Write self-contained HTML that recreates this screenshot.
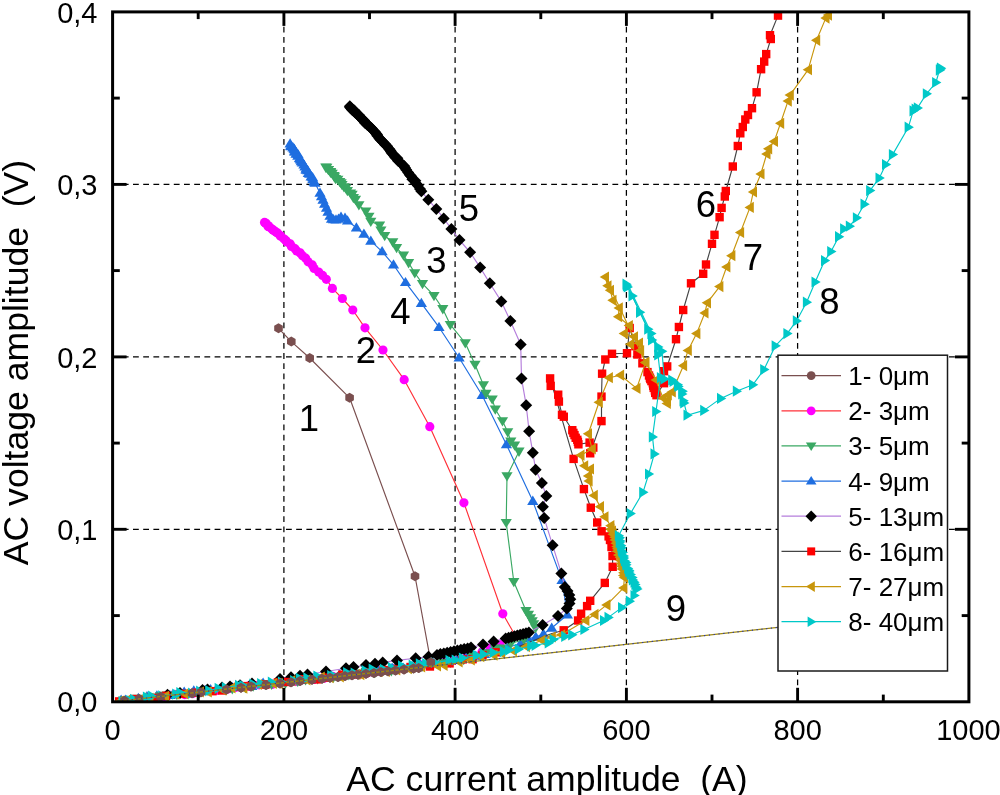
<!DOCTYPE html>
<html lang="en"><head><meta charset="utf-8"><title>AC voltage amplitude vs AC current amplitude</title>
<style>html,body{margin:0;padding:0;background:#fff}body{width:1000px;height:795px;overflow:hidden}svg{display:block}text{font-family:"Liberation Sans",Arial,sans-serif;fill:#000}</style></head><body>
<svg width="1000" height="795" viewBox="0 0 1000 795">
<rect width="1000" height="795" fill="#fff"/>
<g stroke="#000" stroke-width="1.25" stroke-dasharray="5.8 4.4" fill="none">
<line x1="283.9" y1="11.9" x2="283.9" y2="701.8" stroke-dashoffset="5.6"/>
<line x1="455.1" y1="11.9" x2="455.1" y2="701.8" stroke-dashoffset="5.6"/>
<line x1="626.4" y1="11.9" x2="626.4" y2="701.8" stroke-dashoffset="5.6"/>
<line x1="797.6" y1="11.9" x2="797.6" y2="701.8" stroke-dashoffset="5.6"/>
<line x1="112.6" y1="529.3" x2="968.9" y2="529.3"/>
<line x1="112.6" y1="356.9" x2="968.9" y2="356.9"/>
<line x1="112.6" y1="184.4" x2="968.9" y2="184.4"/>
</g>
<clipPath id="c"><rect x="112.6" y="11.9" width="856.3" height="689.9"/></clipPath>
<g clip-path="url(#c)">
<polyline points="124.5,700.8 139.0,699.1 160.5,696.7 192.0,693.2 201.0,692.2 226.5,689.4 241.0,687.7 251.0,686.6 266.0,684.9 280.0,683.4 291.0,682.2 300.0,681.1 312.0,679.8 322.0,678.7 330.0,677.8 338.0,676.9 345.0,676.1 352.0,675.3 358.0,674.7 366.0,673.8 374.0,672.9 381.0,672.1 388.0,671.3 395.5,670.5 404.0,669.5 413.5,668.5 418.7,667.9 430.8,662.2 415.0,576.2 349.6,397.8 309.7,358.0 291.3,341.6 278.5,328.3" fill="none" stroke="#7a4f4f" stroke-width="1.15" stroke-linejoin="round"/>
<g>
<polygon points="128.8,703.3 124.5,705.8 120.2,703.3 120.2,698.3 124.5,695.8 128.8,698.3" fill="#7a4f4f"/>
<polygon points="143.3,701.6 139.0,704.1 134.7,701.6 134.7,696.6 139.0,694.1 143.3,696.6" fill="#7a4f4f"/>
<polygon points="164.8,699.2 160.5,701.7 156.2,699.2 156.2,694.2 160.5,691.7 164.8,694.2" fill="#7a4f4f"/>
<polygon points="196.3,695.7 192.0,698.2 187.7,695.7 187.7,690.7 192.0,688.2 196.3,690.7" fill="#7a4f4f"/>
<polygon points="205.3,694.7 201.0,697.2 196.7,694.7 196.7,689.7 201.0,687.2 205.3,689.7" fill="#7a4f4f"/>
<polygon points="230.8,691.9 226.5,694.4 222.2,691.9 222.2,686.9 226.5,684.4 230.8,686.9" fill="#7a4f4f"/>
<polygon points="245.3,690.2 241.0,692.7 236.7,690.2 236.7,685.2 241.0,682.7 245.3,685.2" fill="#7a4f4f"/>
<polygon points="255.3,689.1 251.0,691.6 246.7,689.1 246.7,684.1 251.0,681.6 255.3,684.1" fill="#7a4f4f"/>
<polygon points="270.3,687.4 266.0,689.9 261.7,687.4 261.7,682.4 266.0,679.9 270.3,682.4" fill="#7a4f4f"/>
<polygon points="284.3,685.9 280.0,688.4 275.7,685.9 275.7,680.9 280.0,678.4 284.3,680.9" fill="#7a4f4f"/>
<polygon points="295.3,684.7 291.0,687.2 286.7,684.7 286.7,679.7 291.0,677.2 295.3,679.7" fill="#7a4f4f"/>
<polygon points="304.3,683.6 300.0,686.1 295.7,683.6 295.7,678.6 300.0,676.1 304.3,678.6" fill="#7a4f4f"/>
<polygon points="316.3,682.3 312.0,684.8 307.7,682.3 307.7,677.3 312.0,674.8 316.3,677.3" fill="#7a4f4f"/>
<polygon points="326.3,681.2 322.0,683.7 317.7,681.2 317.7,676.2 322.0,673.7 326.3,676.2" fill="#7a4f4f"/>
<polygon points="334.3,680.3 330.0,682.8 325.7,680.3 325.7,675.3 330.0,672.8 334.3,675.3" fill="#7a4f4f"/>
<polygon points="342.3,679.4 338.0,681.9 333.7,679.4 333.7,674.4 338.0,671.9 342.3,674.4" fill="#7a4f4f"/>
<polygon points="349.3,678.6 345.0,681.1 340.7,678.6 340.7,673.6 345.0,671.1 349.3,673.6" fill="#7a4f4f"/>
<polygon points="356.3,677.8 352.0,680.3 347.7,677.8 347.7,672.8 352.0,670.3 356.3,672.8" fill="#7a4f4f"/>
<polygon points="362.3,677.2 358.0,679.7 353.7,677.2 353.7,672.2 358.0,669.7 362.3,672.2" fill="#7a4f4f"/>
<polygon points="370.3,676.3 366.0,678.8 361.7,676.3 361.7,671.3 366.0,668.8 370.3,671.3" fill="#7a4f4f"/>
<polygon points="378.3,675.4 374.0,677.9 369.7,675.4 369.7,670.4 374.0,667.9 378.3,670.4" fill="#7a4f4f"/>
<polygon points="385.3,674.6 381.0,677.1 376.7,674.6 376.7,669.6 381.0,667.1 385.3,669.6" fill="#7a4f4f"/>
<polygon points="392.3,673.8 388.0,676.3 383.7,673.8 383.7,668.8 388.0,666.3 392.3,668.8" fill="#7a4f4f"/>
<polygon points="399.8,673.0 395.5,675.5 391.2,673.0 391.2,668.0 395.5,665.5 399.8,668.0" fill="#7a4f4f"/>
<polygon points="408.3,672.0 404.0,674.5 399.7,672.0 399.7,667.0 404.0,664.5 408.3,667.0" fill="#7a4f4f"/>
<polygon points="417.8,671.0 413.5,673.5 409.2,671.0 409.2,666.0 413.5,663.5 417.8,666.0" fill="#7a4f4f"/>
<polygon points="423.0,670.4 418.7,672.9 414.4,670.4 414.4,665.4 418.7,662.9 423.0,665.4" fill="#7a4f4f"/>
<polygon points="435.1,664.7 430.8,667.2 426.5,664.7 426.5,659.7 430.8,657.2 435.1,659.7" fill="#7a4f4f"/>
<polygon points="419.3,578.7 415.0,581.2 410.7,578.7 410.7,573.7 415.0,571.2 419.3,573.7" fill="#7a4f4f"/>
<polygon points="353.9,400.3 349.6,402.8 345.3,400.3 345.3,395.3 349.6,392.8 353.9,395.3" fill="#7a4f4f"/>
<polygon points="314.0,360.5 309.7,363.0 305.4,360.5 305.4,355.5 309.7,353.0 314.0,355.5" fill="#7a4f4f"/>
<polygon points="295.6,344.1 291.3,346.6 287.0,344.1 287.0,339.1 291.3,336.6 295.6,339.1" fill="#7a4f4f"/>
<polygon points="282.8,330.8 278.5,333.3 274.2,330.8 274.2,325.8 278.5,323.3 282.8,325.8" fill="#7a4f4f"/>
</g>
<polyline points="123.4,701.3 132.3,700.1 136.4,700.0 147.6,698.4 164.2,696.5 174.4,694.3 184.8,694.6 192.9,693.6 206.1,690.2 217.0,690.3 227.8,689.0 235.4,687.5 248.4,686.2 259.1,684.8 272.5,684.3 285.5,681.8 296.1,681.4 303.9,679.3 314.0,679.4 323.6,678.4 332.7,676.3 343.6,675.3 357.8,674.4 367.6,672.8 379.0,671.0 393.9,668.6 402.0,667.9 413.1,667.5 421.6,665.0 430.9,665.3 444.1,661.0 453.6,660.3 467.3,655.1 482.0,651.9 490.4,648.2 500.0,644.0 515.5,636.0 502.8,613.8 463.9,502.8 429.8,426.7 404.2,379.7 383.0,350.0 365.0,327.8 352.8,310.0 342.4,298.5 332.4,288.4 326.3,279.3 322.6,275.4 318.7,272.1 314.1,268.5 312.3,264.9 308.1,261.8 305.7,258.2 302.5,255.8 300.3,252.9 296.7,250.9 295.0,248.7 291.4,246.5 290.3,243.9 286.9,241.9 285.8,240.4 283.8,238.8 280.7,236.2 280.1,235.6 277.6,233.1 276.0,232.0 273.9,230.5 273.0,230.1 271.7,228.8 269.4,227.0 268.1,226.5 268.1,225.6 266.0,223.6 265.6,223.0 264.5,222.4" fill="none" stroke="#ff3038" stroke-width="1.15" stroke-linejoin="round"/>
<g>
<circle cx="123.4" cy="701.3" r="4.6" fill="#ff00ff"/>
<circle cx="132.3" cy="700.1" r="4.6" fill="#ff00ff"/>
<circle cx="136.4" cy="700.0" r="4.6" fill="#ff00ff"/>
<circle cx="147.6" cy="698.4" r="4.6" fill="#ff00ff"/>
<circle cx="164.2" cy="696.5" r="4.6" fill="#ff00ff"/>
<circle cx="174.4" cy="694.3" r="4.6" fill="#ff00ff"/>
<circle cx="184.8" cy="694.6" r="4.6" fill="#ff00ff"/>
<circle cx="192.9" cy="693.6" r="4.6" fill="#ff00ff"/>
<circle cx="206.1" cy="690.2" r="4.6" fill="#ff00ff"/>
<circle cx="217.0" cy="690.3" r="4.6" fill="#ff00ff"/>
<circle cx="227.8" cy="689.0" r="4.6" fill="#ff00ff"/>
<circle cx="235.4" cy="687.5" r="4.6" fill="#ff00ff"/>
<circle cx="248.4" cy="686.2" r="4.6" fill="#ff00ff"/>
<circle cx="259.1" cy="684.8" r="4.6" fill="#ff00ff"/>
<circle cx="272.5" cy="684.3" r="4.6" fill="#ff00ff"/>
<circle cx="285.5" cy="681.8" r="4.6" fill="#ff00ff"/>
<circle cx="296.1" cy="681.4" r="4.6" fill="#ff00ff"/>
<circle cx="303.9" cy="679.3" r="4.6" fill="#ff00ff"/>
<circle cx="314.0" cy="679.4" r="4.6" fill="#ff00ff"/>
<circle cx="323.6" cy="678.4" r="4.6" fill="#ff00ff"/>
<circle cx="332.7" cy="676.3" r="4.6" fill="#ff00ff"/>
<circle cx="343.6" cy="675.3" r="4.6" fill="#ff00ff"/>
<circle cx="357.8" cy="674.4" r="4.6" fill="#ff00ff"/>
<circle cx="367.6" cy="672.8" r="4.6" fill="#ff00ff"/>
<circle cx="379.0" cy="671.0" r="4.6" fill="#ff00ff"/>
<circle cx="393.9" cy="668.6" r="4.6" fill="#ff00ff"/>
<circle cx="402.0" cy="667.9" r="4.6" fill="#ff00ff"/>
<circle cx="413.1" cy="667.5" r="4.6" fill="#ff00ff"/>
<circle cx="421.6" cy="665.0" r="4.6" fill="#ff00ff"/>
<circle cx="430.9" cy="665.3" r="4.6" fill="#ff00ff"/>
<circle cx="444.1" cy="661.0" r="4.6" fill="#ff00ff"/>
<circle cx="453.6" cy="660.3" r="4.6" fill="#ff00ff"/>
<circle cx="467.3" cy="655.1" r="4.6" fill="#ff00ff"/>
<circle cx="482.0" cy="651.9" r="4.6" fill="#ff00ff"/>
<circle cx="490.4" cy="648.2" r="4.6" fill="#ff00ff"/>
<circle cx="500.0" cy="644.0" r="4.6" fill="#ff00ff"/>
<circle cx="515.5" cy="636.0" r="4.6" fill="#ff00ff"/>
<circle cx="502.8" cy="613.8" r="4.6" fill="#ff00ff"/>
<circle cx="463.9" cy="502.8" r="4.6" fill="#ff00ff"/>
<circle cx="429.8" cy="426.7" r="4.6" fill="#ff00ff"/>
<circle cx="404.2" cy="379.7" r="4.6" fill="#ff00ff"/>
<circle cx="383.0" cy="350.0" r="4.6" fill="#ff00ff"/>
<circle cx="365.0" cy="327.8" r="4.6" fill="#ff00ff"/>
<circle cx="352.8" cy="310.0" r="4.6" fill="#ff00ff"/>
<circle cx="342.4" cy="298.5" r="4.6" fill="#ff00ff"/>
<circle cx="332.4" cy="288.4" r="4.6" fill="#ff00ff"/>
<circle cx="326.3" cy="279.3" r="4.6" fill="#ff00ff"/>
<circle cx="322.6" cy="275.4" r="4.6" fill="#ff00ff"/>
<circle cx="318.7" cy="272.1" r="4.6" fill="#ff00ff"/>
<circle cx="314.1" cy="268.5" r="4.6" fill="#ff00ff"/>
<circle cx="312.3" cy="264.9" r="4.6" fill="#ff00ff"/>
<circle cx="308.1" cy="261.8" r="4.6" fill="#ff00ff"/>
<circle cx="305.7" cy="258.2" r="4.6" fill="#ff00ff"/>
<circle cx="302.5" cy="255.8" r="4.6" fill="#ff00ff"/>
<circle cx="300.3" cy="252.9" r="4.6" fill="#ff00ff"/>
<circle cx="296.7" cy="250.9" r="4.6" fill="#ff00ff"/>
<circle cx="295.0" cy="248.7" r="4.6" fill="#ff00ff"/>
<circle cx="291.4" cy="246.5" r="4.6" fill="#ff00ff"/>
<circle cx="290.3" cy="243.9" r="4.6" fill="#ff00ff"/>
<circle cx="286.9" cy="241.9" r="4.6" fill="#ff00ff"/>
<circle cx="285.8" cy="240.4" r="4.6" fill="#ff00ff"/>
<circle cx="283.8" cy="238.8" r="4.6" fill="#ff00ff"/>
<circle cx="280.7" cy="236.2" r="4.6" fill="#ff00ff"/>
<circle cx="280.1" cy="235.6" r="4.6" fill="#ff00ff"/>
<circle cx="277.6" cy="233.1" r="4.6" fill="#ff00ff"/>
<circle cx="276.0" cy="232.0" r="4.6" fill="#ff00ff"/>
<circle cx="273.9" cy="230.5" r="4.6" fill="#ff00ff"/>
<circle cx="273.0" cy="230.1" r="4.6" fill="#ff00ff"/>
<circle cx="271.7" cy="228.8" r="4.6" fill="#ff00ff"/>
<circle cx="269.4" cy="227.0" r="4.6" fill="#ff00ff"/>
<circle cx="268.1" cy="226.5" r="4.6" fill="#ff00ff"/>
<circle cx="268.1" cy="225.6" r="4.6" fill="#ff00ff"/>
<circle cx="266.0" cy="223.6" r="4.6" fill="#ff00ff"/>
<circle cx="265.6" cy="223.0" r="4.6" fill="#ff00ff"/>
<circle cx="264.5" cy="222.4" r="4.6" fill="#ff00ff"/>
</g>
<polyline points="121.1,700.1 125.6,700.0 138.3,698.2 147.0,696.5 156.9,695.7 169.8,695.4 184.2,691.9 193.8,690.8 204.1,691.0 210.6,689.4 223.4,688.5 232.0,687.3 241.7,685.9 251.8,686.3 263.1,683.0 278.8,681.7 288.6,680.1 299.0,679.9 309.4,677.8 315.5,677.3 326.9,676.9 339.7,674.4 351.0,673.7 362.4,673.1 373.1,670.0 377.8,669.3 392.1,668.1 403.1,668.1 412.4,666.6 420.5,664.8 433.2,663.3 440.9,661.8 457.6,659.4 467.6,656.3 475.8,656.0 484.5,654.3 499.5,650.3 507.5,647.4 520.3,643.8 528.0,638.9 535.8,637.0 543.4,634.0 551.7,628.0 567.4,614.8 562.0,580.4 532.8,501.1 506.4,444.5 482.1,395.3 459.1,357.8 439.0,327.2 421.4,303.3 405.5,282.4 393.5,264.8 382.1,251.6 370.8,240.9 363.9,234.0 356.4,227.7 347.5,220.8 345.0,218.0 341.0,217.0 338.5,219.0 336.0,219.8 333.5,219.4 331.5,219.0 330.0,216.0 328.0,212.0 326.5,208.0 324.6,204.0 323.0,200.0 321.5,196.5 320.0,193.0 315.0,183.0 314.0,182.0 312.8,179.5 312.6,177.5 311.1,176.7 309.7,173.9 308.3,173.2 307.7,170.6 306.1,170.1 306.1,168.6 304.9,166.8 303.9,164.7 302.3,162.8 301.3,161.6 300.8,160.1 300.2,159.1 299.5,158.3 297.8,156.1 298.0,154.4 296.0,154.0 295.7,151.7 294.4,151.7 294.4,149.4 294.0,148.8 292.9,147.6 291.1,146.4 290.6,145.9 290.1,143.8" fill="none" stroke="#1f6ee0" stroke-width="1.15" stroke-linejoin="round"/>
<g>
<polygon points="115.5,703.9 126.7,703.9 121.1,694.6" fill="#1f6ee0"/>
<polygon points="120.0,703.8 131.2,703.8 125.6,694.5" fill="#1f6ee0"/>
<polygon points="132.7,701.9 143.9,701.9 138.3,692.7" fill="#1f6ee0"/>
<polygon points="141.4,700.2 152.6,700.2 147.0,691.0" fill="#1f6ee0"/>
<polygon points="151.3,699.4 162.5,699.4 156.9,690.2" fill="#1f6ee0"/>
<polygon points="164.2,699.1 175.4,699.1 169.8,689.9" fill="#1f6ee0"/>
<polygon points="178.6,695.6 189.8,695.6 184.2,686.4" fill="#1f6ee0"/>
<polygon points="188.2,694.5 199.4,694.5 193.8,685.3" fill="#1f6ee0"/>
<polygon points="198.5,694.7 209.7,694.7 204.1,685.5" fill="#1f6ee0"/>
<polygon points="205.0,693.1 216.2,693.1 210.6,683.9" fill="#1f6ee0"/>
<polygon points="217.8,692.2 229.0,692.2 223.4,683.0" fill="#1f6ee0"/>
<polygon points="226.4,691.1 237.6,691.1 232.0,681.8" fill="#1f6ee0"/>
<polygon points="236.1,689.6 247.3,689.6 241.7,680.4" fill="#1f6ee0"/>
<polygon points="246.2,690.0 257.4,690.0 251.8,680.8" fill="#1f6ee0"/>
<polygon points="257.5,686.8 268.7,686.8 263.1,677.5" fill="#1f6ee0"/>
<polygon points="273.2,685.5 284.4,685.5 278.8,676.2" fill="#1f6ee0"/>
<polygon points="283.0,683.8 294.2,683.8 288.6,674.6" fill="#1f6ee0"/>
<polygon points="293.4,683.6 304.6,683.6 299.0,674.4" fill="#1f6ee0"/>
<polygon points="303.8,681.6 315.0,681.6 309.4,672.3" fill="#1f6ee0"/>
<polygon points="309.9,681.1 321.1,681.1 315.5,671.8" fill="#1f6ee0"/>
<polygon points="321.3,680.7 332.5,680.7 326.9,671.4" fill="#1f6ee0"/>
<polygon points="334.1,678.1 345.3,678.1 339.7,668.9" fill="#1f6ee0"/>
<polygon points="345.4,677.4 356.6,677.4 351.0,668.2" fill="#1f6ee0"/>
<polygon points="356.8,676.9 368.0,676.9 362.4,667.6" fill="#1f6ee0"/>
<polygon points="367.5,673.7 378.7,673.7 373.1,664.5" fill="#1f6ee0"/>
<polygon points="372.2,673.1 383.4,673.1 377.8,663.8" fill="#1f6ee0"/>
<polygon points="386.5,671.8 397.7,671.8 392.1,662.6" fill="#1f6ee0"/>
<polygon points="397.5,671.8 408.7,671.8 403.1,662.6" fill="#1f6ee0"/>
<polygon points="406.8,670.4 418.0,670.4 412.4,661.1" fill="#1f6ee0"/>
<polygon points="414.9,668.5 426.1,668.5 420.5,659.3" fill="#1f6ee0"/>
<polygon points="427.6,667.1 438.8,667.1 433.2,657.8" fill="#1f6ee0"/>
<polygon points="435.3,665.5 446.5,665.5 440.9,656.3" fill="#1f6ee0"/>
<polygon points="452.0,663.2 463.2,663.2 457.6,653.9" fill="#1f6ee0"/>
<polygon points="462.0,660.1 473.2,660.1 467.6,650.8" fill="#1f6ee0"/>
<polygon points="470.2,659.8 481.4,659.8 475.8,650.5" fill="#1f6ee0"/>
<polygon points="478.9,658.1 490.1,658.1 484.5,648.8" fill="#1f6ee0"/>
<polygon points="493.9,654.1 505.1,654.1 499.5,644.8" fill="#1f6ee0"/>
<polygon points="501.9,651.1 513.1,651.1 507.5,641.9" fill="#1f6ee0"/>
<polygon points="514.7,647.5 525.9,647.5 520.3,638.3" fill="#1f6ee0"/>
<polygon points="522.4,642.6 533.6,642.6 528.0,633.4" fill="#1f6ee0"/>
<polygon points="530.2,640.8 541.4,640.8 535.8,631.5" fill="#1f6ee0"/>
<polygon points="537.8,637.8 549.0,637.8 543.4,628.5" fill="#1f6ee0"/>
<polygon points="546.1,631.8 557.3,631.8 551.7,622.5" fill="#1f6ee0"/>
<polygon points="561.8,618.5 573.0,618.5 567.4,609.3" fill="#1f6ee0"/>
<polygon points="556.4,584.1 567.6,584.1 562.0,574.9" fill="#1f6ee0"/>
<polygon points="527.2,504.9 538.4,504.9 532.8,495.6" fill="#1f6ee0"/>
<polygon points="500.8,448.2 512.0,448.2 506.4,439.0" fill="#1f6ee0"/>
<polygon points="476.5,399.1 487.7,399.1 482.1,389.8" fill="#1f6ee0"/>
<polygon points="453.5,361.6 464.7,361.6 459.1,352.3" fill="#1f6ee0"/>
<polygon points="433.4,330.9 444.6,330.9 439.0,321.7" fill="#1f6ee0"/>
<polygon points="415.8,307.1 427.0,307.1 421.4,297.8" fill="#1f6ee0"/>
<polygon points="399.9,286.1 411.1,286.1 405.5,276.9" fill="#1f6ee0"/>
<polygon points="387.9,268.6 399.1,268.6 393.5,259.3" fill="#1f6ee0"/>
<polygon points="376.5,255.3 387.7,255.3 382.1,246.1" fill="#1f6ee0"/>
<polygon points="365.2,244.7 376.4,244.7 370.8,235.4" fill="#1f6ee0"/>
<polygon points="358.3,237.8 369.5,237.8 363.9,228.5" fill="#1f6ee0"/>
<polygon points="350.8,231.4 362.0,231.4 356.4,222.2" fill="#1f6ee0"/>
<polygon points="341.9,224.6 353.1,224.6 347.5,215.3" fill="#1f6ee0"/>
<polygon points="339.4,221.8 350.6,221.8 345.0,212.5" fill="#1f6ee0"/>
<polygon points="335.4,220.8 346.6,220.8 341.0,211.5" fill="#1f6ee0"/>
<polygon points="332.9,222.8 344.1,222.8 338.5,213.5" fill="#1f6ee0"/>
<polygon points="330.4,223.6 341.6,223.6 336.0,214.3" fill="#1f6ee0"/>
<polygon points="327.9,223.2 339.1,223.2 333.5,213.9" fill="#1f6ee0"/>
<polygon points="325.9,222.8 337.1,222.8 331.5,213.5" fill="#1f6ee0"/>
<polygon points="324.4,219.8 335.6,219.8 330.0,210.5" fill="#1f6ee0"/>
<polygon points="322.4,215.8 333.6,215.8 328.0,206.5" fill="#1f6ee0"/>
<polygon points="320.9,211.8 332.1,211.8 326.5,202.5" fill="#1f6ee0"/>
<polygon points="319.0,207.8 330.2,207.8 324.6,198.5" fill="#1f6ee0"/>
<polygon points="317.4,203.8 328.6,203.8 323.0,194.5" fill="#1f6ee0"/>
<polygon points="315.9,200.2 327.1,200.2 321.5,191.0" fill="#1f6ee0"/>
<polygon points="314.4,196.8 325.6,196.8 320.0,187.5" fill="#1f6ee0"/>
<polygon points="309.4,186.7 320.6,186.7 315.0,177.5" fill="#1f6ee0"/>
<polygon points="308.4,185.7 319.6,185.7 314.0,176.5" fill="#1f6ee0"/>
<polygon points="307.2,183.2 318.4,183.2 312.8,174.0" fill="#1f6ee0"/>
<polygon points="307.0,181.2 318.2,181.2 312.6,172.0" fill="#1f6ee0"/>
<polygon points="305.5,180.4 316.7,180.4 311.1,171.2" fill="#1f6ee0"/>
<polygon points="304.1,177.7 315.3,177.7 309.7,168.4" fill="#1f6ee0"/>
<polygon points="302.7,177.0 313.9,177.0 308.3,167.7" fill="#1f6ee0"/>
<polygon points="302.1,174.3 313.3,174.3 307.7,165.1" fill="#1f6ee0"/>
<polygon points="300.5,173.8 311.7,173.8 306.1,164.6" fill="#1f6ee0"/>
<polygon points="300.5,172.4 311.7,172.4 306.1,163.1" fill="#1f6ee0"/>
<polygon points="299.3,170.5 310.5,170.5 304.9,161.3" fill="#1f6ee0"/>
<polygon points="298.3,168.4 309.5,168.4 303.9,159.2" fill="#1f6ee0"/>
<polygon points="296.7,166.5 307.9,166.5 302.3,157.3" fill="#1f6ee0"/>
<polygon points="295.7,165.3 306.9,165.3 301.3,156.1" fill="#1f6ee0"/>
<polygon points="295.2,163.8 306.4,163.8 300.8,154.6" fill="#1f6ee0"/>
<polygon points="294.6,162.8 305.8,162.8 300.2,153.6" fill="#1f6ee0"/>
<polygon points="293.9,162.1 305.1,162.1 299.5,152.8" fill="#1f6ee0"/>
<polygon points="292.2,159.8 303.4,159.8 297.8,150.6" fill="#1f6ee0"/>
<polygon points="292.4,158.1 303.6,158.1 298.0,148.9" fill="#1f6ee0"/>
<polygon points="290.4,157.7 301.6,157.7 296.0,148.5" fill="#1f6ee0"/>
<polygon points="290.1,155.5 301.3,155.5 295.7,146.2" fill="#1f6ee0"/>
<polygon points="288.8,155.5 300.0,155.5 294.4,146.2" fill="#1f6ee0"/>
<polygon points="288.8,153.2 300.0,153.2 294.4,143.9" fill="#1f6ee0"/>
<polygon points="288.4,152.5 299.6,152.5 294.0,143.3" fill="#1f6ee0"/>
<polygon points="287.3,151.4 298.5,151.4 292.9,142.1" fill="#1f6ee0"/>
<polygon points="285.5,150.2 296.7,150.2 291.1,140.9" fill="#1f6ee0"/>
<polygon points="285.0,149.7 296.2,149.7 290.6,140.4" fill="#1f6ee0"/>
<polygon points="284.5,147.6 295.7,147.6 290.1,138.3" fill="#1f6ee0"/>
</g>
<polyline points="123.8,700.4 128.7,700.3 137.9,698.4 150.0,697.6 160.6,696.1 166.9,695.3 176.9,694.7 193.3,692.8 199.5,692.9 209.8,691.1 225.7,689.9 232.3,689.0 245.4,687.8 253.2,686.2 264.8,683.6 271.6,684.5 285.5,683.2 297.7,681.6 305.6,679.9 317.6,678.9 327.5,676.6 333.4,677.4 348.9,675.0 358.1,673.2 366.4,671.8 374.8,672.7 391.3,671.1 398.9,668.1 411.1,668.4 422.7,666.2 431.9,664.3 443.8,662.6 450.4,662.5 463.7,659.7 471.5,655.7 485.5,653.0 495.5,648.4 500.2,648.4 510.9,643.5 524.0,639.5 535.5,628.0 533.7,624.0 532.2,621.0 530.5,618.0 528.5,614.5 526.0,610.7 513.8,581.7 506.2,522.6 507.0,476.0 519.0,451.4 514.6,445.2 510.8,441.4 507.7,432.0 502.5,421.0 495.3,409.2 492.2,399.1 485.9,393.5 483.4,385.0 475.0,364.5 465.3,343.0 450.3,324.7 442.8,308.9 434.0,295.7 422.5,283.7 414.8,273.0 408.6,262.9 403.5,255.3 396.6,247.8 392.8,242.1 384.7,235.8 380.9,230.2 379.6,225.2 370.8,221.4 368.9,216.4 365.8,211.3 358.9,205.0 355.5,199.5 353.4,197.8 352.1,194.5 350.5,193.1 347.4,190.8 345.9,188.1 344.0,187.0 342.0,184.8 341.1,182.9 339.7,181.8 337.8,179.4 335.6,178.7 334.4,177.1 334.1,175.7 332.2,173.6 330.6,172.4 330.6,171.9 328.4,169.6 328.4,169.7 326.8,167.6 325.8,167.4" fill="none" stroke="#3aa863" stroke-width="1.15" stroke-linejoin="round"/>
<g>
<polygon points="118.2,696.6 129.4,696.6 123.8,705.9" fill="#3aa863"/>
<polygon points="123.1,696.5 134.3,696.5 128.7,705.8" fill="#3aa863"/>
<polygon points="132.3,694.7 143.5,694.7 137.9,703.9" fill="#3aa863"/>
<polygon points="144.4,693.8 155.6,693.8 150.0,703.1" fill="#3aa863"/>
<polygon points="155.0,692.3 166.2,692.3 160.6,701.6" fill="#3aa863"/>
<polygon points="161.3,691.5 172.5,691.5 166.9,700.8" fill="#3aa863"/>
<polygon points="171.3,690.9 182.5,690.9 176.9,700.2" fill="#3aa863"/>
<polygon points="187.7,689.0 198.9,689.0 193.3,698.3" fill="#3aa863"/>
<polygon points="193.9,689.1 205.1,689.1 199.5,698.4" fill="#3aa863"/>
<polygon points="204.2,687.4 215.4,687.4 209.8,696.6" fill="#3aa863"/>
<polygon points="220.1,686.2 231.3,686.2 225.7,695.4" fill="#3aa863"/>
<polygon points="226.7,685.2 237.9,685.2 232.3,694.5" fill="#3aa863"/>
<polygon points="239.8,684.1 251.0,684.1 245.4,693.3" fill="#3aa863"/>
<polygon points="247.6,682.4 258.8,682.4 253.2,691.7" fill="#3aa863"/>
<polygon points="259.2,679.9 270.4,679.9 264.8,689.1" fill="#3aa863"/>
<polygon points="266.0,680.8 277.2,680.8 271.6,690.0" fill="#3aa863"/>
<polygon points="279.9,679.4 291.1,679.4 285.5,688.7" fill="#3aa863"/>
<polygon points="292.1,677.9 303.3,677.9 297.7,687.1" fill="#3aa863"/>
<polygon points="300.0,676.2 311.2,676.2 305.6,685.4" fill="#3aa863"/>
<polygon points="312.0,675.2 323.2,675.2 317.6,684.4" fill="#3aa863"/>
<polygon points="321.9,672.8 333.1,672.8 327.5,682.1" fill="#3aa863"/>
<polygon points="327.8,673.6 339.0,673.6 333.4,682.9" fill="#3aa863"/>
<polygon points="343.3,671.2 354.5,671.2 348.9,680.5" fill="#3aa863"/>
<polygon points="352.5,669.5 363.7,669.5 358.1,678.7" fill="#3aa863"/>
<polygon points="360.8,668.0 372.0,668.0 366.4,677.3" fill="#3aa863"/>
<polygon points="369.2,668.9 380.4,668.9 374.8,678.2" fill="#3aa863"/>
<polygon points="385.7,667.4 396.9,667.4 391.3,676.6" fill="#3aa863"/>
<polygon points="393.3,664.4 404.5,664.4 398.9,673.6" fill="#3aa863"/>
<polygon points="405.5,664.7 416.7,664.7 411.1,673.9" fill="#3aa863"/>
<polygon points="417.1,662.4 428.3,662.4 422.7,671.7" fill="#3aa863"/>
<polygon points="426.3,660.5 437.5,660.5 431.9,669.8" fill="#3aa863"/>
<polygon points="438.2,658.9 449.4,658.9 443.8,668.1" fill="#3aa863"/>
<polygon points="444.8,658.7 456.0,658.7 450.4,668.0" fill="#3aa863"/>
<polygon points="458.1,656.0 469.3,656.0 463.7,665.2" fill="#3aa863"/>
<polygon points="465.9,652.0 477.1,652.0 471.5,661.2" fill="#3aa863"/>
<polygon points="479.9,649.3 491.1,649.3 485.5,658.5" fill="#3aa863"/>
<polygon points="489.9,644.7 501.1,644.7 495.5,653.9" fill="#3aa863"/>
<polygon points="494.6,644.6 505.8,644.6 500.2,653.9" fill="#3aa863"/>
<polygon points="505.3,639.7 516.5,639.7 510.9,649.0" fill="#3aa863"/>
<polygon points="518.4,635.7 529.6,635.7 524.0,645.0" fill="#3aa863"/>
<polygon points="529.9,624.2 541.1,624.2 535.5,633.5" fill="#3aa863"/>
<polygon points="528.1,620.2 539.3,620.2 533.7,629.5" fill="#3aa863"/>
<polygon points="526.6,617.2 537.8,617.2 532.2,626.5" fill="#3aa863"/>
<polygon points="524.9,614.2 536.1,614.2 530.5,623.5" fill="#3aa863"/>
<polygon points="522.9,610.8 534.1,610.8 528.5,620.0" fill="#3aa863"/>
<polygon points="520.4,607.0 531.6,607.0 526.0,616.2" fill="#3aa863"/>
<polygon points="508.2,578.0 519.4,578.0 513.8,587.2" fill="#3aa863"/>
<polygon points="500.6,518.9 511.8,518.9 506.2,528.1" fill="#3aa863"/>
<polygon points="501.4,472.2 512.6,472.2 507.0,481.5" fill="#3aa863"/>
<polygon points="513.4,447.6 524.6,447.6 519.0,456.9" fill="#3aa863"/>
<polygon points="509.0,441.4 520.2,441.4 514.6,450.7" fill="#3aa863"/>
<polygon points="505.2,437.6 516.4,437.6 510.8,446.9" fill="#3aa863"/>
<polygon points="502.1,428.2 513.3,428.2 507.7,437.5" fill="#3aa863"/>
<polygon points="496.9,417.2 508.1,417.2 502.5,426.5" fill="#3aa863"/>
<polygon points="489.7,405.4 500.9,405.4 495.3,414.7" fill="#3aa863"/>
<polygon points="486.6,395.4 497.8,395.4 492.2,404.6" fill="#3aa863"/>
<polygon points="480.3,389.8 491.5,389.8 485.9,399.0" fill="#3aa863"/>
<polygon points="477.8,381.2 489.0,381.2 483.4,390.5" fill="#3aa863"/>
<polygon points="469.4,360.8 480.6,360.8 475.0,370.0" fill="#3aa863"/>
<polygon points="459.7,339.2 470.9,339.2 465.3,348.5" fill="#3aa863"/>
<polygon points="444.7,320.9 455.9,320.9 450.3,330.2" fill="#3aa863"/>
<polygon points="437.2,305.1 448.4,305.1 442.8,314.4" fill="#3aa863"/>
<polygon points="428.4,291.9 439.6,291.9 434.0,301.2" fill="#3aa863"/>
<polygon points="416.9,279.9 428.1,279.9 422.5,289.2" fill="#3aa863"/>
<polygon points="409.2,269.2 420.4,269.2 414.8,278.5" fill="#3aa863"/>
<polygon points="403.0,259.1 414.2,259.1 408.6,268.4" fill="#3aa863"/>
<polygon points="397.9,251.6 409.1,251.6 403.5,260.8" fill="#3aa863"/>
<polygon points="391.0,244.1 402.2,244.1 396.6,253.3" fill="#3aa863"/>
<polygon points="387.2,238.3 398.4,238.3 392.8,247.6" fill="#3aa863"/>
<polygon points="379.1,232.1 390.3,232.1 384.7,241.3" fill="#3aa863"/>
<polygon points="375.3,226.4 386.5,226.4 380.9,235.7" fill="#3aa863"/>
<polygon points="374.0,221.4 385.2,221.4 379.6,230.7" fill="#3aa863"/>
<polygon points="365.2,217.7 376.4,217.7 370.8,226.9" fill="#3aa863"/>
<polygon points="363.3,212.7 374.5,212.7 368.9,221.9" fill="#3aa863"/>
<polygon points="360.2,207.6 371.4,207.6 365.8,216.8" fill="#3aa863"/>
<polygon points="353.3,201.2 364.5,201.2 358.9,210.5" fill="#3aa863"/>
<polygon points="349.9,195.8 361.1,195.8 355.5,205.0" fill="#3aa863"/>
<polygon points="347.8,194.1 359.0,194.1 353.4,203.3" fill="#3aa863"/>
<polygon points="346.5,190.7 357.7,190.7 352.1,200.0" fill="#3aa863"/>
<polygon points="344.9,189.4 356.1,189.4 350.5,198.6" fill="#3aa863"/>
<polygon points="341.8,187.0 353.0,187.0 347.4,196.3" fill="#3aa863"/>
<polygon points="340.3,184.3 351.5,184.3 345.9,193.6" fill="#3aa863"/>
<polygon points="338.4,183.2 349.6,183.2 344.0,192.5" fill="#3aa863"/>
<polygon points="336.4,181.0 347.6,181.0 342.0,190.3" fill="#3aa863"/>
<polygon points="335.5,179.2 346.7,179.2 341.1,188.4" fill="#3aa863"/>
<polygon points="334.1,178.0 345.3,178.0 339.7,187.3" fill="#3aa863"/>
<polygon points="332.2,175.7 343.4,175.7 337.8,184.9" fill="#3aa863"/>
<polygon points="330.0,175.0 341.2,175.0 335.6,184.2" fill="#3aa863"/>
<polygon points="328.8,173.3 340.0,173.3 334.4,182.6" fill="#3aa863"/>
<polygon points="328.5,171.9 339.7,171.9 334.1,181.2" fill="#3aa863"/>
<polygon points="326.6,169.8 337.8,169.8 332.2,179.1" fill="#3aa863"/>
<polygon points="325.0,168.7 336.2,168.7 330.6,177.9" fill="#3aa863"/>
<polygon points="325.0,168.1 336.2,168.1 330.6,177.4" fill="#3aa863"/>
<polygon points="322.8,165.9 334.0,165.9 328.4,175.1" fill="#3aa863"/>
<polygon points="322.8,166.0 334.0,166.0 328.4,175.2" fill="#3aa863"/>
<polygon points="321.2,163.8 332.4,163.8 326.8,173.1" fill="#3aa863"/>
<polygon points="320.2,163.6 331.4,163.6 325.8,172.9" fill="#3aa863"/>
</g>
<polyline points="167.5,694.7 180.0,693.0 202.5,690.1 207.5,689.4 222.0,687.5 230.0,686.5 240.0,685.2 252.0,683.5 280.0,679.0 291.0,677.2 300.0,675.7 307.5,674.5 326.0,671.5 346.0,668.2 353.5,667.1 366.0,665.1 375.0,663.8 382.7,662.6 397.0,660.4 415.7,658.2 428.5,656.7 437.0,654.9 440.4,654.1 443.8,653.4 447.2,652.7 450.6,652.0 454.0,651.3 457.4,650.5 460.8,649.8 464.2,649.1 467.6,648.4 471.0,647.6 483.0,644.4 493.6,641.6 505.7,638.5 508.6,637.7 511.5,637.0 514.4,636.2 517.3,635.4 520.2,634.7 523.1,633.9 526.0,633.2 528.9,632.4 542.6,625.0 558.0,615.9 566.8,608.4 569.5,603.5 570.3,599.2 569.3,595.0 567.5,591.0 564.8,587.0 561.4,573.5 552.6,545.2 544.2,518.1 542.9,506.8 546.3,496.1 541.9,482.9 535.6,469.7 532.8,452.7 529.1,431.3 526.2,405.2 521.5,378.4 520.7,344.6 510.4,320.9 501.3,301.4 489.8,283.2 480.1,267.4 470.1,252.3 459.5,240.0 451.4,228.9 443.7,218.5 436.3,208.9 428.3,199.8 421.4,191.2 420.0,188.9 417.8,185.5 416.1,183.6 415.3,180.8 412.4,179.2 411.1,176.2 409.7,174.8 408.2,172.4 406.2,169.8 405.0,167.7 404.1,166.0 401.4,163.8 400.3,162.6 398.0,160.7 397.4,158.2 395.3,157.4 394.0,155.6 392.1,153.6 391.0,151.8 390.4,150.4 389.2,148.9 387.2,146.2 385.4,144.9 385.0,143.9 382.9,142.1 381.4,140.3 380.3,139.5 379.2,138.0 377.3,135.7 377.0,134.5 376.0,133.6 374.8,131.8 373.5,130.7 372.0,128.9 371.3,128.1 369.7,126.6 368.9,125.7 367.4,124.9 366.0,123.3 364.8,122.7 364.1,120.6 363.1,120.5 362.0,118.9 361.2,118.0 360.4,117.4 358.9,115.1 358.0,115.0 356.9,114.1 356.1,112.8 354.8,112.2 354.4,110.4 353.1,110.6 351.8,109.5 351.1,107.9 350.1,107.6 349.8,106.3" fill="none" stroke="#b57edc" stroke-width="1.15" stroke-linejoin="round"/>
<g>
<polygon points="161.5,694.7 167.5,688.7 173.5,694.7 167.5,700.7" fill="#000"/>
<polygon points="174.0,693.0 180.0,687.0 186.0,693.0 180.0,699.0" fill="#000"/>
<polygon points="196.5,690.1 202.5,684.1 208.5,690.1 202.5,696.1" fill="#000"/>
<polygon points="201.5,689.4 207.5,683.4 213.5,689.4 207.5,695.4" fill="#000"/>
<polygon points="216.0,687.5 222.0,681.5 228.0,687.5 222.0,693.5" fill="#000"/>
<polygon points="224.0,686.5 230.0,680.5 236.0,686.5 230.0,692.5" fill="#000"/>
<polygon points="234.0,685.2 240.0,679.2 246.0,685.2 240.0,691.2" fill="#000"/>
<polygon points="246.0,683.5 252.0,677.5 258.0,683.5 252.0,689.5" fill="#000"/>
<polygon points="274.0,679.0 280.0,673.0 286.0,679.0 280.0,685.0" fill="#000"/>
<polygon points="285.0,677.2 291.0,671.2 297.0,677.2 291.0,683.2" fill="#000"/>
<polygon points="294.0,675.7 300.0,669.7 306.0,675.7 300.0,681.7" fill="#000"/>
<polygon points="301.5,674.5 307.5,668.5 313.5,674.5 307.5,680.5" fill="#000"/>
<polygon points="320.0,671.5 326.0,665.5 332.0,671.5 326.0,677.5" fill="#000"/>
<polygon points="340.0,668.2 346.0,662.2 352.0,668.2 346.0,674.2" fill="#000"/>
<polygon points="347.5,667.1 353.5,661.1 359.5,667.1 353.5,673.1" fill="#000"/>
<polygon points="360.0,665.1 366.0,659.1 372.0,665.1 366.0,671.1" fill="#000"/>
<polygon points="369.0,663.8 375.0,657.8 381.0,663.8 375.0,669.8" fill="#000"/>
<polygon points="376.7,662.6 382.7,656.6 388.7,662.6 382.7,668.6" fill="#000"/>
<polygon points="391.0,660.4 397.0,654.4 403.0,660.4 397.0,666.4" fill="#000"/>
<polygon points="409.7,658.2 415.7,652.2 421.7,658.2 415.7,664.2" fill="#000"/>
<polygon points="422.5,656.7 428.5,650.7 434.5,656.7 428.5,662.7" fill="#000"/>
<polygon points="431.0,654.9 437.0,648.9 443.0,654.9 437.0,660.9" fill="#000"/>
<polygon points="434.4,654.1 440.4,648.1 446.4,654.1 440.4,660.1" fill="#000"/>
<polygon points="437.8,653.4 443.8,647.4 449.8,653.4 443.8,659.4" fill="#000"/>
<polygon points="441.2,652.7 447.2,646.7 453.2,652.7 447.2,658.7" fill="#000"/>
<polygon points="444.6,652.0 450.6,646.0 456.6,652.0 450.6,658.0" fill="#000"/>
<polygon points="448.0,651.3 454.0,645.3 460.0,651.3 454.0,657.3" fill="#000"/>
<polygon points="451.4,650.5 457.4,644.5 463.4,650.5 457.4,656.5" fill="#000"/>
<polygon points="454.8,649.8 460.8,643.8 466.8,649.8 460.8,655.8" fill="#000"/>
<polygon points="458.2,649.1 464.2,643.1 470.2,649.1 464.2,655.1" fill="#000"/>
<polygon points="461.6,648.4 467.6,642.4 473.6,648.4 467.6,654.4" fill="#000"/>
<polygon points="465.0,647.6 471.0,641.6 477.0,647.6 471.0,653.6" fill="#000"/>
<polygon points="477.0,644.4 483.0,638.4 489.0,644.4 483.0,650.4" fill="#000"/>
<polygon points="487.6,641.6 493.6,635.6 499.6,641.6 493.6,647.6" fill="#000"/>
<polygon points="499.7,638.5 505.7,632.5 511.7,638.5 505.7,644.5" fill="#000"/>
<polygon points="502.6,637.7 508.6,631.7 514.6,637.7 508.6,643.7" fill="#000"/>
<polygon points="505.5,637.0 511.5,631.0 517.5,637.0 511.5,643.0" fill="#000"/>
<polygon points="508.4,636.2 514.4,630.2 520.4,636.2 514.4,642.2" fill="#000"/>
<polygon points="511.3,635.4 517.3,629.4 523.3,635.4 517.3,641.4" fill="#000"/>
<polygon points="514.2,634.7 520.2,628.7 526.2,634.7 520.2,640.7" fill="#000"/>
<polygon points="517.1,633.9 523.1,627.9 529.1,633.9 523.1,639.9" fill="#000"/>
<polygon points="520.0,633.2 526.0,627.2 532.0,633.2 526.0,639.2" fill="#000"/>
<polygon points="522.9,632.4 528.9,626.4 534.9,632.4 528.9,638.4" fill="#000"/>
<polygon points="536.6,625.0 542.6,619.0 548.6,625.0 542.6,631.0" fill="#000"/>
<polygon points="552.0,615.9 558.0,609.9 564.0,615.9 558.0,621.9" fill="#000"/>
<polygon points="560.8,608.4 566.8,602.4 572.8,608.4 566.8,614.4" fill="#000"/>
<polygon points="563.5,603.5 569.5,597.5 575.5,603.5 569.5,609.5" fill="#000"/>
<polygon points="564.3,599.2 570.3,593.2 576.3,599.2 570.3,605.2" fill="#000"/>
<polygon points="563.3,595.0 569.3,589.0 575.3,595.0 569.3,601.0" fill="#000"/>
<polygon points="561.5,591.0 567.5,585.0 573.5,591.0 567.5,597.0" fill="#000"/>
<polygon points="558.8,587.0 564.8,581.0 570.8,587.0 564.8,593.0" fill="#000"/>
<polygon points="555.4,573.5 561.4,567.5 567.4,573.5 561.4,579.5" fill="#000"/>
<polygon points="546.6,545.2 552.6,539.2 558.6,545.2 552.6,551.2" fill="#000"/>
<polygon points="538.2,518.1 544.2,512.1 550.2,518.1 544.2,524.1" fill="#000"/>
<polygon points="536.9,506.8 542.9,500.8 548.9,506.8 542.9,512.8" fill="#000"/>
<polygon points="540.3,496.1 546.3,490.1 552.3,496.1 546.3,502.1" fill="#000"/>
<polygon points="535.9,482.9 541.9,476.9 547.9,482.9 541.9,488.9" fill="#000"/>
<polygon points="529.6,469.7 535.6,463.7 541.6,469.7 535.6,475.7" fill="#000"/>
<polygon points="526.8,452.7 532.8,446.7 538.8,452.7 532.8,458.7" fill="#000"/>
<polygon points="523.1,431.3 529.1,425.3 535.1,431.3 529.1,437.3" fill="#000"/>
<polygon points="520.2,405.2 526.2,399.2 532.2,405.2 526.2,411.2" fill="#000"/>
<polygon points="515.5,378.4 521.5,372.4 527.5,378.4 521.5,384.4" fill="#000"/>
<polygon points="514.7,344.6 520.7,338.6 526.7,344.6 520.7,350.6" fill="#000"/>
<polygon points="504.4,320.9 510.4,314.9 516.4,320.9 510.4,326.9" fill="#000"/>
<polygon points="495.3,301.4 501.3,295.4 507.3,301.4 501.3,307.4" fill="#000"/>
<polygon points="483.8,283.2 489.8,277.2 495.8,283.2 489.8,289.2" fill="#000"/>
<polygon points="474.1,267.4 480.1,261.4 486.1,267.4 480.1,273.4" fill="#000"/>
<polygon points="464.1,252.3 470.1,246.3 476.1,252.3 470.1,258.3" fill="#000"/>
<polygon points="453.5,240.0 459.5,234.0 465.5,240.0 459.5,246.0" fill="#000"/>
<polygon points="445.4,228.9 451.4,222.9 457.4,228.9 451.4,234.9" fill="#000"/>
<polygon points="437.7,218.5 443.7,212.5 449.7,218.5 443.7,224.5" fill="#000"/>
<polygon points="430.3,208.9 436.3,202.9 442.3,208.9 436.3,214.9" fill="#000"/>
<polygon points="422.3,199.8 428.3,193.8 434.3,199.8 428.3,205.8" fill="#000"/>
<polygon points="415.4,191.2 421.4,185.2 427.4,191.2 421.4,197.2" fill="#000"/>
<polygon points="414.0,188.9 420.0,182.9 426.0,188.9 420.0,194.9" fill="#000"/>
<polygon points="411.8,185.5 417.8,179.5 423.8,185.5 417.8,191.5" fill="#000"/>
<polygon points="410.1,183.6 416.1,177.6 422.1,183.6 416.1,189.6" fill="#000"/>
<polygon points="409.3,180.8 415.3,174.8 421.3,180.8 415.3,186.8" fill="#000"/>
<polygon points="406.4,179.2 412.4,173.2 418.4,179.2 412.4,185.2" fill="#000"/>
<polygon points="405.1,176.2 411.1,170.2 417.1,176.2 411.1,182.2" fill="#000"/>
<polygon points="403.7,174.8 409.7,168.8 415.7,174.8 409.7,180.8" fill="#000"/>
<polygon points="402.2,172.4 408.2,166.4 414.2,172.4 408.2,178.4" fill="#000"/>
<polygon points="400.2,169.8 406.2,163.8 412.2,169.8 406.2,175.8" fill="#000"/>
<polygon points="399.0,167.7 405.0,161.7 411.0,167.7 405.0,173.7" fill="#000"/>
<polygon points="398.1,166.0 404.1,160.0 410.1,166.0 404.1,172.0" fill="#000"/>
<polygon points="395.4,163.8 401.4,157.8 407.4,163.8 401.4,169.8" fill="#000"/>
<polygon points="394.3,162.6 400.3,156.6 406.3,162.6 400.3,168.6" fill="#000"/>
<polygon points="392.0,160.7 398.0,154.7 404.0,160.7 398.0,166.7" fill="#000"/>
<polygon points="391.4,158.2 397.4,152.2 403.4,158.2 397.4,164.2" fill="#000"/>
<polygon points="389.3,157.4 395.3,151.4 401.3,157.4 395.3,163.4" fill="#000"/>
<polygon points="388.0,155.6 394.0,149.6 400.0,155.6 394.0,161.6" fill="#000"/>
<polygon points="386.1,153.6 392.1,147.6 398.1,153.6 392.1,159.6" fill="#000"/>
<polygon points="385.0,151.8 391.0,145.8 397.0,151.8 391.0,157.8" fill="#000"/>
<polygon points="384.4,150.4 390.4,144.4 396.4,150.4 390.4,156.4" fill="#000"/>
<polygon points="383.2,148.9 389.2,142.9 395.2,148.9 389.2,154.9" fill="#000"/>
<polygon points="381.2,146.2 387.2,140.2 393.2,146.2 387.2,152.2" fill="#000"/>
<polygon points="379.4,144.9 385.4,138.9 391.4,144.9 385.4,150.9" fill="#000"/>
<polygon points="379.0,143.9 385.0,137.9 391.0,143.9 385.0,149.9" fill="#000"/>
<polygon points="376.9,142.1 382.9,136.1 388.9,142.1 382.9,148.1" fill="#000"/>
<polygon points="375.4,140.3 381.4,134.3 387.4,140.3 381.4,146.3" fill="#000"/>
<polygon points="374.3,139.5 380.3,133.5 386.3,139.5 380.3,145.5" fill="#000"/>
<polygon points="373.2,138.0 379.2,132.0 385.2,138.0 379.2,144.0" fill="#000"/>
<polygon points="371.3,135.7 377.3,129.7 383.3,135.7 377.3,141.7" fill="#000"/>
<polygon points="371.0,134.5 377.0,128.5 383.0,134.5 377.0,140.5" fill="#000"/>
<polygon points="370.0,133.6 376.0,127.6 382.0,133.6 376.0,139.6" fill="#000"/>
<polygon points="368.8,131.8 374.8,125.8 380.8,131.8 374.8,137.8" fill="#000"/>
<polygon points="367.5,130.7 373.5,124.7 379.5,130.7 373.5,136.7" fill="#000"/>
<polygon points="366.0,128.9 372.0,122.9 378.0,128.9 372.0,134.9" fill="#000"/>
<polygon points="365.3,128.1 371.3,122.1 377.3,128.1 371.3,134.1" fill="#000"/>
<polygon points="363.7,126.6 369.7,120.6 375.7,126.6 369.7,132.6" fill="#000"/>
<polygon points="362.9,125.7 368.9,119.7 374.9,125.7 368.9,131.7" fill="#000"/>
<polygon points="361.4,124.9 367.4,118.9 373.4,124.9 367.4,130.9" fill="#000"/>
<polygon points="360.0,123.3 366.0,117.3 372.0,123.3 366.0,129.3" fill="#000"/>
<polygon points="358.8,122.7 364.8,116.7 370.8,122.7 364.8,128.7" fill="#000"/>
<polygon points="358.1,120.6 364.1,114.6 370.1,120.6 364.1,126.6" fill="#000"/>
<polygon points="357.1,120.5 363.1,114.5 369.1,120.5 363.1,126.5" fill="#000"/>
<polygon points="356.0,118.9 362.0,112.9 368.0,118.9 362.0,124.9" fill="#000"/>
<polygon points="355.2,118.0 361.2,112.0 367.2,118.0 361.2,124.0" fill="#000"/>
<polygon points="354.4,117.4 360.4,111.4 366.4,117.4 360.4,123.4" fill="#000"/>
<polygon points="352.9,115.1 358.9,109.1 364.9,115.1 358.9,121.1" fill="#000"/>
<polygon points="352.0,115.0 358.0,109.0 364.0,115.0 358.0,121.0" fill="#000"/>
<polygon points="350.9,114.1 356.9,108.1 362.9,114.1 356.9,120.1" fill="#000"/>
<polygon points="350.1,112.8 356.1,106.8 362.1,112.8 356.1,118.8" fill="#000"/>
<polygon points="348.8,112.2 354.8,106.2 360.8,112.2 354.8,118.2" fill="#000"/>
<polygon points="348.4,110.4 354.4,104.4 360.4,110.4 354.4,116.4" fill="#000"/>
<polygon points="347.1,110.6 353.1,104.6 359.1,110.6 353.1,116.6" fill="#000"/>
<polygon points="345.8,109.5 351.8,103.5 357.8,109.5 351.8,115.5" fill="#000"/>
<polygon points="345.1,107.9 351.1,101.9 357.1,107.9 351.1,113.9" fill="#000"/>
<polygon points="344.1,107.6 350.1,101.6 356.1,107.6 350.1,113.6" fill="#000"/>
<polygon points="343.8,106.3 349.8,100.3 355.8,106.3 349.8,112.3" fill="#000"/>
</g>
<polyline points="119.2,701.4 134.1,699.0 144.2,699.2 155.3,697.9 166.0,695.8 185.3,693.9 196.6,692.7 212.5,691.2 222.0,690.5 238.9,686.3 247.4,686.1 265.4,684.6 277.9,682.5 288.2,682.0 302.5,679.2 316.9,679.4 325.6,677.6 342.1,674.7 357.5,674.3 365.7,672.5 383.8,670.1 395.9,669.4 410.5,667.0 419.0,666.2 429.9,666.5 449.6,663.4 462.7,659.4 472.6,659.2 482.5,655.1 496.6,652.3 513.8,648.6 523.8,644.6 543.0,636.9 552.0,633.5 563.7,630.3 578.1,620.5 581.1,613.7 587.1,606.1 590.2,600.8 604.8,582.9 612.7,566.8 612.5,556.0 611.5,547.0 610.0,540.0 608.6,536.4 601.6,531.3 597.2,522.5 590.8,507.7 583.9,489.1 573.6,458.9 550.1,378.4 550.7,385.9 558.2,394.7 558.9,401.6 562.0,414.8 563.8,416.7 572.3,430.2 573.4,432.9 574.5,435.1 575.7,437.8 577.3,439.8 577.9,441.9 578.4,444.3 589.6,442.6 593.3,447.6 590.2,453.3 601.5,421.1 601.5,396.6 602.1,373.7 605.3,359.5 612.0,353.8 627.0,353.2 629.7,328.0 635.4,346.2 637.4,354.5 642.4,363.3 647.5,372.1 649.0,375.5 649.9,377.7 650.3,379.1 651.4,381.1 652.8,383.3 653.2,385.7 653.7,387.9 654.9,390.4 655.2,392.9 656.5,395.2 664.0,383.2 664.0,371.2 667.2,366.4 676.0,339.2 678.9,327.0 683.2,310.0 691.0,283.3 703.2,273.8 706.0,264.5 712.0,243.8 714.5,234.8 719.6,217.2 721.6,207.9 724.8,196.5 725.8,191.0 732.8,166.5 737.8,146.0 740.3,133.3 742.8,127.0 745.3,119.5 748.0,115.0 752.0,108.2 756.6,92.3 761.1,69.2 764.2,61.6 766.2,54.1 770.8,39.0 770.0,35.2 778.0,15.6 781.0,6.0" fill="none" stroke="#444" stroke-width="1.15" stroke-linejoin="round"/>
<g>
<rect x="115.0" y="697.2" width="8.4" height="8.4" fill="#ff0000"/>
<rect x="129.9" y="694.8" width="8.4" height="8.4" fill="#ff0000"/>
<rect x="140.0" y="695.0" width="8.4" height="8.4" fill="#ff0000"/>
<rect x="151.1" y="693.7" width="8.4" height="8.4" fill="#ff0000"/>
<rect x="161.8" y="691.6" width="8.4" height="8.4" fill="#ff0000"/>
<rect x="181.1" y="689.7" width="8.4" height="8.4" fill="#ff0000"/>
<rect x="192.4" y="688.5" width="8.4" height="8.4" fill="#ff0000"/>
<rect x="208.3" y="687.0" width="8.4" height="8.4" fill="#ff0000"/>
<rect x="217.8" y="686.3" width="8.4" height="8.4" fill="#ff0000"/>
<rect x="234.7" y="682.1" width="8.4" height="8.4" fill="#ff0000"/>
<rect x="243.2" y="681.9" width="8.4" height="8.4" fill="#ff0000"/>
<rect x="261.2" y="680.4" width="8.4" height="8.4" fill="#ff0000"/>
<rect x="273.7" y="678.3" width="8.4" height="8.4" fill="#ff0000"/>
<rect x="284.0" y="677.8" width="8.4" height="8.4" fill="#ff0000"/>
<rect x="298.3" y="675.0" width="8.4" height="8.4" fill="#ff0000"/>
<rect x="312.7" y="675.2" width="8.4" height="8.4" fill="#ff0000"/>
<rect x="321.4" y="673.4" width="8.4" height="8.4" fill="#ff0000"/>
<rect x="337.9" y="670.5" width="8.4" height="8.4" fill="#ff0000"/>
<rect x="353.3" y="670.1" width="8.4" height="8.4" fill="#ff0000"/>
<rect x="361.5" y="668.3" width="8.4" height="8.4" fill="#ff0000"/>
<rect x="379.6" y="665.9" width="8.4" height="8.4" fill="#ff0000"/>
<rect x="391.7" y="665.2" width="8.4" height="8.4" fill="#ff0000"/>
<rect x="406.3" y="662.8" width="8.4" height="8.4" fill="#ff0000"/>
<rect x="414.8" y="662.0" width="8.4" height="8.4" fill="#ff0000"/>
<rect x="425.7" y="662.3" width="8.4" height="8.4" fill="#ff0000"/>
<rect x="445.4" y="659.2" width="8.4" height="8.4" fill="#ff0000"/>
<rect x="458.5" y="655.2" width="8.4" height="8.4" fill="#ff0000"/>
<rect x="468.4" y="655.0" width="8.4" height="8.4" fill="#ff0000"/>
<rect x="478.3" y="650.9" width="8.4" height="8.4" fill="#ff0000"/>
<rect x="492.4" y="648.1" width="8.4" height="8.4" fill="#ff0000"/>
<rect x="559.5" y="626.1" width="8.4" height="8.4" fill="#ff0000"/>
<rect x="573.9" y="616.3" width="8.4" height="8.4" fill="#ff0000"/>
<rect x="576.9" y="609.5" width="8.4" height="8.4" fill="#ff0000"/>
<rect x="582.9" y="601.9" width="8.4" height="8.4" fill="#ff0000"/>
<rect x="586.0" y="596.6" width="8.4" height="8.4" fill="#ff0000"/>
<rect x="600.6" y="578.7" width="8.4" height="8.4" fill="#ff0000"/>
<rect x="608.5" y="562.6" width="8.4" height="8.4" fill="#ff0000"/>
<rect x="608.3" y="551.8" width="8.4" height="8.4" fill="#ff0000"/>
<rect x="607.3" y="542.8" width="8.4" height="8.4" fill="#ff0000"/>
<rect x="605.8" y="535.8" width="8.4" height="8.4" fill="#ff0000"/>
<rect x="604.4" y="532.2" width="8.4" height="8.4" fill="#ff0000"/>
<rect x="597.4" y="527.1" width="8.4" height="8.4" fill="#ff0000"/>
<rect x="593.0" y="518.3" width="8.4" height="8.4" fill="#ff0000"/>
<rect x="586.6" y="503.5" width="8.4" height="8.4" fill="#ff0000"/>
<rect x="579.7" y="484.9" width="8.4" height="8.4" fill="#ff0000"/>
<rect x="569.4" y="454.7" width="8.4" height="8.4" fill="#ff0000"/>
<rect x="545.9" y="374.2" width="8.4" height="8.4" fill="#ff0000"/>
<rect x="546.5" y="381.7" width="8.4" height="8.4" fill="#ff0000"/>
<rect x="554.0" y="390.5" width="8.4" height="8.4" fill="#ff0000"/>
<rect x="554.7" y="397.4" width="8.4" height="8.4" fill="#ff0000"/>
<rect x="557.8" y="410.6" width="8.4" height="8.4" fill="#ff0000"/>
<rect x="559.6" y="412.5" width="8.4" height="8.4" fill="#ff0000"/>
<rect x="568.1" y="426.0" width="8.4" height="8.4" fill="#ff0000"/>
<rect x="569.2" y="428.7" width="8.4" height="8.4" fill="#ff0000"/>
<rect x="570.3" y="430.9" width="8.4" height="8.4" fill="#ff0000"/>
<rect x="571.5" y="433.6" width="8.4" height="8.4" fill="#ff0000"/>
<rect x="573.1" y="435.6" width="8.4" height="8.4" fill="#ff0000"/>
<rect x="573.7" y="437.7" width="8.4" height="8.4" fill="#ff0000"/>
<rect x="574.2" y="440.1" width="8.4" height="8.4" fill="#ff0000"/>
<rect x="585.4" y="438.4" width="8.4" height="8.4" fill="#ff0000"/>
<rect x="589.1" y="443.4" width="8.4" height="8.4" fill="#ff0000"/>
<rect x="586.0" y="449.1" width="8.4" height="8.4" fill="#ff0000"/>
<rect x="597.3" y="416.9" width="8.4" height="8.4" fill="#ff0000"/>
<rect x="597.3" y="392.4" width="8.4" height="8.4" fill="#ff0000"/>
<rect x="597.9" y="369.5" width="8.4" height="8.4" fill="#ff0000"/>
<rect x="601.1" y="355.3" width="8.4" height="8.4" fill="#ff0000"/>
<rect x="607.8" y="349.6" width="8.4" height="8.4" fill="#ff0000"/>
<rect x="622.8" y="349.0" width="8.4" height="8.4" fill="#ff0000"/>
<rect x="625.5" y="323.8" width="8.4" height="8.4" fill="#ff0000"/>
<rect x="631.2" y="342.0" width="8.4" height="8.4" fill="#ff0000"/>
<rect x="633.2" y="350.3" width="8.4" height="8.4" fill="#ff0000"/>
<rect x="638.2" y="359.1" width="8.4" height="8.4" fill="#ff0000"/>
<rect x="643.3" y="367.9" width="8.4" height="8.4" fill="#ff0000"/>
<rect x="644.8" y="371.3" width="8.4" height="8.4" fill="#ff0000"/>
<rect x="645.7" y="373.5" width="8.4" height="8.4" fill="#ff0000"/>
<rect x="646.1" y="374.9" width="8.4" height="8.4" fill="#ff0000"/>
<rect x="647.2" y="376.9" width="8.4" height="8.4" fill="#ff0000"/>
<rect x="648.6" y="379.1" width="8.4" height="8.4" fill="#ff0000"/>
<rect x="649.0" y="381.5" width="8.4" height="8.4" fill="#ff0000"/>
<rect x="649.5" y="383.7" width="8.4" height="8.4" fill="#ff0000"/>
<rect x="650.7" y="386.2" width="8.4" height="8.4" fill="#ff0000"/>
<rect x="651.0" y="388.7" width="8.4" height="8.4" fill="#ff0000"/>
<rect x="652.3" y="391.0" width="8.4" height="8.4" fill="#ff0000"/>
<rect x="659.8" y="379.0" width="8.4" height="8.4" fill="#ff0000"/>
<rect x="659.8" y="367.0" width="8.4" height="8.4" fill="#ff0000"/>
<rect x="663.0" y="362.2" width="8.4" height="8.4" fill="#ff0000"/>
<rect x="671.8" y="335.0" width="8.4" height="8.4" fill="#ff0000"/>
<rect x="674.7" y="322.8" width="8.4" height="8.4" fill="#ff0000"/>
<rect x="679.0" y="305.8" width="8.4" height="8.4" fill="#ff0000"/>
<rect x="686.8" y="279.1" width="8.4" height="8.4" fill="#ff0000"/>
<rect x="699.0" y="269.6" width="8.4" height="8.4" fill="#ff0000"/>
<rect x="701.8" y="260.3" width="8.4" height="8.4" fill="#ff0000"/>
<rect x="707.8" y="239.6" width="8.4" height="8.4" fill="#ff0000"/>
<rect x="710.3" y="230.6" width="8.4" height="8.4" fill="#ff0000"/>
<rect x="715.4" y="213.0" width="8.4" height="8.4" fill="#ff0000"/>
<rect x="717.4" y="203.7" width="8.4" height="8.4" fill="#ff0000"/>
<rect x="720.6" y="192.3" width="8.4" height="8.4" fill="#ff0000"/>
<rect x="721.6" y="186.8" width="8.4" height="8.4" fill="#ff0000"/>
<rect x="728.6" y="162.3" width="8.4" height="8.4" fill="#ff0000"/>
<rect x="733.6" y="141.8" width="8.4" height="8.4" fill="#ff0000"/>
<rect x="736.1" y="129.1" width="8.4" height="8.4" fill="#ff0000"/>
<rect x="738.6" y="122.8" width="8.4" height="8.4" fill="#ff0000"/>
<rect x="741.1" y="115.3" width="8.4" height="8.4" fill="#ff0000"/>
<rect x="743.8" y="110.8" width="8.4" height="8.4" fill="#ff0000"/>
<rect x="747.8" y="104.0" width="8.4" height="8.4" fill="#ff0000"/>
<rect x="752.4" y="88.1" width="8.4" height="8.4" fill="#ff0000"/>
<rect x="756.9" y="65.0" width="8.4" height="8.4" fill="#ff0000"/>
<rect x="760.0" y="57.4" width="8.4" height="8.4" fill="#ff0000"/>
<rect x="762.0" y="49.9" width="8.4" height="8.4" fill="#ff0000"/>
<rect x="766.6" y="34.8" width="8.4" height="8.4" fill="#ff0000"/>
<rect x="765.8" y="31.0" width="8.4" height="8.4" fill="#ff0000"/>
<rect x="773.8" y="11.4" width="8.4" height="8.4" fill="#ff0000"/>
<rect x="776.8" y="1.8" width="8.4" height="8.4" fill="#ff0000"/>
</g>
<polyline points="119.9,701.2 126.9,700.1 142.7,697.9 149.7,698.3 165.2,696.3 175.5,694.1 184.7,693.8 200.2,692.0 208.0,691.9 223.0,689.9 231.8,687.8 243.7,688.2 258.1,684.5 273.2,683.5 279.1,683.6 291.7,680.7 306.7,679.9 321.1,677.2 329.8,677.7 340.0,676.8 356.5,674.4 360.6,674.7 379.0,671.3 386.1,671.4 396.6,670.0 408.1,668.6 421.4,666.8 437.3,665.9 443.8,665.3 458.8,661.8 471.0,660.0 480.6,656.6 493.7,655.2 501.5,653.1 513.2,650.8 526.1,646.6 541.8,640.3 552.0,637.0 561.5,634.8 585.6,620.5 594.7,614.4 606.7,604.9 623.6,587.9 624.4,577.6 623.4,575.5 623.6,572.7 622.0,568.9 621.5,566.3 621.1,563.6 620.6,560.4 620.2,557.5 618.5,555.0 617.4,551.2 617.4,548.8 616.7,546.5 615.9,543.3 615.0,540.0 614.7,537.2 613.0,534.3 612.2,531.0 610.7,529.2 610.7,525.7 604.7,516.8 600.3,506.7 594.0,495.4 588.9,481.0 588.3,475.9 590.2,469.0 584.5,465.8 580.8,455.2 592.0,448.9 588.3,433.8 599.0,402.3 609.1,377.7 620.4,375.2 636.7,388.4 645.5,362.6 640.4,350.6 639.2,343.0 630.4,344.3 634.2,336.8 624.1,333.6 629.1,325.5 618.4,316.7 619.0,307.9 612.8,300.3 610.3,290.3 607.7,285.8 605.2,277.0" fill="none" stroke="#c8960c" stroke-width="1.15" stroke-linejoin="round"/>
<polyline points="605.2,277.0 645.6,362.4 656.0,380.0 663.0,398.0 667.2,400.8 667.0,403.5 668.0,395.0 672.0,392.0 683.4,365.7 688.0,350.4 696.6,333.6 704.8,313.0 707.2,302.8 719.6,286.6 726.6,267.0 731.6,255.7 740.4,232.5 750.0,207.4 753.3,192.0 760.8,174.0 766.7,154.0 768.5,148.8 774.2,141.4 780.5,123.3 788.0,101.1 790.0,95.1 808.2,69.7 816.5,40.3 825.8,18.1 828.3,15.1 833.0,5.0" fill="none" stroke="#c8960c" stroke-width="1.15" stroke-linejoin="round"/>
<g>
<polygon points="123.6,695.6 123.6,706.8 114.4,701.2" fill="#c8960c"/>
<polygon points="130.6,694.5 130.6,705.7 121.4,700.1" fill="#c8960c"/>
<polygon points="146.4,692.3 146.4,703.5 137.2,697.9" fill="#c8960c"/>
<polygon points="153.4,692.7 153.4,703.9 144.2,698.3" fill="#c8960c"/>
<polygon points="169.0,690.7 169.0,701.9 159.7,696.3" fill="#c8960c"/>
<polygon points="179.3,688.5 179.3,699.7 170.0,694.1" fill="#c8960c"/>
<polygon points="188.5,688.2 188.5,699.4 179.2,693.8" fill="#c8960c"/>
<polygon points="203.9,686.4 203.9,697.6 194.7,692.0" fill="#c8960c"/>
<polygon points="211.8,686.3 211.8,697.5 202.5,691.9" fill="#c8960c"/>
<polygon points="226.8,684.3 226.8,695.5 217.5,689.9" fill="#c8960c"/>
<polygon points="235.5,682.2 235.5,693.4 226.3,687.8" fill="#c8960c"/>
<polygon points="247.4,682.6 247.4,693.8 238.2,688.2" fill="#c8960c"/>
<polygon points="261.9,678.9 261.9,690.1 252.6,684.5" fill="#c8960c"/>
<polygon points="276.9,677.9 276.9,689.1 267.7,683.5" fill="#c8960c"/>
<polygon points="282.9,678.0 282.9,689.2 273.6,683.6" fill="#c8960c"/>
<polygon points="295.4,675.1 295.4,686.3 286.2,680.7" fill="#c8960c"/>
<polygon points="310.5,674.3 310.5,685.5 301.2,679.9" fill="#c8960c"/>
<polygon points="324.8,671.6 324.8,682.8 315.6,677.2" fill="#c8960c"/>
<polygon points="333.5,672.1 333.5,683.3 324.3,677.7" fill="#c8960c"/>
<polygon points="343.8,671.2 343.8,682.4 334.5,676.8" fill="#c8960c"/>
<polygon points="360.3,668.8 360.3,680.0 351.0,674.4" fill="#c8960c"/>
<polygon points="364.4,669.1 364.4,680.3 355.1,674.7" fill="#c8960c"/>
<polygon points="382.7,665.7 382.7,676.9 373.5,671.3" fill="#c8960c"/>
<polygon points="389.8,665.8 389.8,677.0 380.6,671.4" fill="#c8960c"/>
<polygon points="400.3,664.4 400.3,675.6 391.1,670.0" fill="#c8960c"/>
<polygon points="411.9,663.0 411.9,674.2 402.6,668.6" fill="#c8960c"/>
<polygon points="425.2,661.2 425.2,672.4 415.9,666.8" fill="#c8960c"/>
<polygon points="441.0,660.3 441.0,671.5 431.8,665.9" fill="#c8960c"/>
<polygon points="447.6,659.7 447.6,670.9 438.3,665.3" fill="#c8960c"/>
<polygon points="462.6,656.2 462.6,667.4 453.3,661.8" fill="#c8960c"/>
<polygon points="474.8,654.4 474.8,665.6 465.5,660.0" fill="#c8960c"/>
<polygon points="484.3,651.0 484.3,662.2 475.1,656.6" fill="#c8960c"/>
<polygon points="497.5,649.6 497.5,660.8 488.2,655.2" fill="#c8960c"/>
<polygon points="505.2,647.5 505.2,658.7 496.0,653.1" fill="#c8960c"/>
<polygon points="516.9,645.2 516.9,656.4 507.7,650.8" fill="#c8960c"/>
<polygon points="529.9,641.0 529.9,652.2 520.6,646.6" fill="#c8960c"/>
<polygon points="545.5,634.7 545.5,645.9 536.3,640.3" fill="#c8960c"/>
<polygon points="555.8,631.4 555.8,642.6 546.5,637.0" fill="#c8960c"/>
<polygon points="565.2,629.2 565.2,640.4 556.0,634.8" fill="#c8960c"/>
<polygon points="589.4,614.9 589.4,626.1 580.1,620.5" fill="#c8960c"/>
<polygon points="598.5,608.8 598.5,620.0 589.2,614.4" fill="#c8960c"/>
<polygon points="610.5,599.3 610.5,610.5 601.2,604.9" fill="#c8960c"/>
<polygon points="627.4,582.3 627.4,593.5 618.1,587.9" fill="#c8960c"/>
<polygon points="628.1,572.0 628.1,583.2 618.9,577.6" fill="#c8960c"/>
<polygon points="627.1,569.9 627.1,581.1 617.9,575.5" fill="#c8960c"/>
<polygon points="627.3,567.1 627.3,578.3 618.1,572.7" fill="#c8960c"/>
<polygon points="625.8,563.3 625.8,574.5 616.5,568.9" fill="#c8960c"/>
<polygon points="625.2,560.7 625.2,571.9 616.0,566.3" fill="#c8960c"/>
<polygon points="624.8,558.0 624.8,569.2 615.6,563.6" fill="#c8960c"/>
<polygon points="624.4,554.8 624.4,566.0 615.1,560.4" fill="#c8960c"/>
<polygon points="624.0,551.9 624.0,563.1 614.7,557.5" fill="#c8960c"/>
<polygon points="622.2,549.4 622.2,560.6 613.0,555.0" fill="#c8960c"/>
<polygon points="621.1,545.6 621.1,556.8 611.9,551.2" fill="#c8960c"/>
<polygon points="621.2,543.2 621.2,554.4 611.9,548.8" fill="#c8960c"/>
<polygon points="620.5,540.9 620.5,552.1 611.2,546.5" fill="#c8960c"/>
<polygon points="619.7,537.7 619.7,548.9 610.4,543.3" fill="#c8960c"/>
<polygon points="618.8,534.4 618.8,545.6 609.5,540.0" fill="#c8960c"/>
<polygon points="618.5,531.6 618.5,542.8 609.2,537.2" fill="#c8960c"/>
<polygon points="616.7,528.7 616.7,539.9 607.5,534.3" fill="#c8960c"/>
<polygon points="616.0,525.4 616.0,536.6 606.7,531.0" fill="#c8960c"/>
<polygon points="614.5,523.6 614.5,534.8 605.2,529.2" fill="#c8960c"/>
<polygon points="614.4,520.1 614.4,531.3 605.2,525.7" fill="#c8960c"/>
<polygon points="608.5,511.2 608.5,522.4 599.2,516.8" fill="#c8960c"/>
<polygon points="604.0,501.1 604.0,512.3 594.8,506.7" fill="#c8960c"/>
<polygon points="597.8,489.8 597.8,501.0 588.5,495.4" fill="#c8960c"/>
<polygon points="592.6,475.4 592.6,486.6 583.4,481.0" fill="#c8960c"/>
<polygon points="592.0,470.3 592.0,481.5 582.8,475.9" fill="#c8960c"/>
<polygon points="594.0,463.4 594.0,474.6 584.7,469.0" fill="#c8960c"/>
<polygon points="588.2,460.2 588.2,471.4 579.0,465.8" fill="#c8960c"/>
<polygon points="584.5,449.6 584.5,460.8 575.3,455.2" fill="#c8960c"/>
<polygon points="595.8,443.3 595.8,454.5 586.5,448.9" fill="#c8960c"/>
<polygon points="592.0,428.2 592.0,439.4 582.8,433.8" fill="#c8960c"/>
<polygon points="602.8,396.7 602.8,407.9 593.5,402.3" fill="#c8960c"/>
<polygon points="612.9,372.1 612.9,383.3 603.6,377.7" fill="#c8960c"/>
<polygon points="624.1,369.6 624.1,380.8 614.9,375.2" fill="#c8960c"/>
<polygon points="640.5,382.8 640.5,394.0 631.2,388.4" fill="#c8960c"/>
<polygon points="649.2,357.0 649.2,368.2 640.0,362.6" fill="#c8960c"/>
<polygon points="644.1,345.0 644.1,356.2 634.9,350.6" fill="#c8960c"/>
<polygon points="643.0,337.4 643.0,348.6 633.7,343.0" fill="#c8960c"/>
<polygon points="634.1,338.7 634.1,349.9 624.9,344.3" fill="#c8960c"/>
<polygon points="638.0,331.2 638.0,342.4 628.7,336.8" fill="#c8960c"/>
<polygon points="627.9,328.0 627.9,339.2 618.6,333.6" fill="#c8960c"/>
<polygon points="632.9,319.9 632.9,331.1 623.6,325.5" fill="#c8960c"/>
<polygon points="622.1,311.1 622.1,322.3 612.9,316.7" fill="#c8960c"/>
<polygon points="622.8,302.3 622.8,313.5 613.5,307.9" fill="#c8960c"/>
<polygon points="616.5,294.7 616.5,305.9 607.3,300.3" fill="#c8960c"/>
<polygon points="614.0,284.7 614.0,295.9 604.8,290.3" fill="#c8960c"/>
<polygon points="611.5,280.2 611.5,291.4 602.2,285.8" fill="#c8960c"/>
<polygon points="609.0,271.4 609.0,282.6 599.7,277.0" fill="#c8960c"/>
<polygon points="649.4,356.8 649.4,368.0 640.1,362.4" fill="#c8960c"/>
<polygon points="659.8,374.4 659.8,385.6 650.5,380.0" fill="#c8960c"/>
<polygon points="666.8,392.4 666.8,403.6 657.5,398.0" fill="#c8960c"/>
<polygon points="671.0,395.2 671.0,406.4 661.7,400.8" fill="#c8960c"/>
<polygon points="670.8,397.9 670.8,409.1 661.5,403.5" fill="#c8960c"/>
<polygon points="671.8,389.4 671.8,400.6 662.5,395.0" fill="#c8960c"/>
<polygon points="675.8,386.4 675.8,397.6 666.5,392.0" fill="#c8960c"/>
<polygon points="687.1,360.1 687.1,371.3 677.9,365.7" fill="#c8960c"/>
<polygon points="691.8,344.8 691.8,356.0 682.5,350.4" fill="#c8960c"/>
<polygon points="700.4,328.0 700.4,339.2 691.1,333.6" fill="#c8960c"/>
<polygon points="708.5,307.4 708.5,318.6 699.3,313.0" fill="#c8960c"/>
<polygon points="711.0,297.2 711.0,308.4 701.7,302.8" fill="#c8960c"/>
<polygon points="723.4,281.0 723.4,292.2 714.1,286.6" fill="#c8960c"/>
<polygon points="730.4,261.4 730.4,272.6 721.1,267.0" fill="#c8960c"/>
<polygon points="735.4,250.1 735.4,261.3 726.1,255.7" fill="#c8960c"/>
<polygon points="744.1,226.9 744.1,238.1 734.9,232.5" fill="#c8960c"/>
<polygon points="753.8,201.8 753.8,213.0 744.5,207.4" fill="#c8960c"/>
<polygon points="757.0,186.4 757.0,197.6 747.8,192.0" fill="#c8960c"/>
<polygon points="764.5,168.4 764.5,179.6 755.3,174.0" fill="#c8960c"/>
<polygon points="770.5,148.4 770.5,159.6 761.2,154.0" fill="#c8960c"/>
<polygon points="772.2,143.2 772.2,154.4 763.0,148.8" fill="#c8960c"/>
<polygon points="778.0,135.8 778.0,147.0 768.7,141.4" fill="#c8960c"/>
<polygon points="784.2,117.7 784.2,128.9 775.0,123.3" fill="#c8960c"/>
<polygon points="791.8,95.5 791.8,106.7 782.5,101.1" fill="#c8960c"/>
<polygon points="793.8,89.5 793.8,100.7 784.5,95.1" fill="#c8960c"/>
<polygon points="812.0,64.1 812.0,75.3 802.7,69.7" fill="#c8960c"/>
<polygon points="820.2,34.7 820.2,45.9 811.0,40.3" fill="#c8960c"/>
<polygon points="829.5,12.5 829.5,23.7 820.3,18.1" fill="#c8960c"/>
<polygon points="832.0,9.5 832.0,20.7 822.8,15.1" fill="#c8960c"/>
<polygon points="836.8,-0.6 836.8,10.6 827.5,5.0" fill="#c8960c"/>
</g>
<polyline points="122.2,701.8 130.1,700.5 133.9,699.3 146.7,697.0 151.8,696.2 162.0,695.9 175.9,694.2 180.0,692.6 191.9,693.2 199.8,691.2 208.9,690.6 218.3,688.3 225.5,687.5 238.7,685.3 243.1,685.6 253.1,684.2 260.9,683.6 271.6,682.2 281.6,682.1 293.9,680.7 299.7,678.3 307.1,677.9 317.2,676.1 331.0,675.6 334.1,676.0 346.8,672.6 354.4,673.0 365.3,670.6 372.4,669.0 383.8,669.4 391.7,667.5 401.8,665.8 412.5,665.2 419.6,663.8 425.9,663.5 434.5,662.5 449.3,660.4 455.5,660.0 462.7,658.1 476.6,655.4 483.4,654.2 493.5,652.5 503.6,651.6 508.9,650.1 518.5,649.2 530.9,645.8 535.3,645.3 548.4,642.9 553.3,639.5 565.0,636.4 572.0,634.8 584.1,629.5 603.7,620.5 608.3,617.4 621.8,607.6 629.5,601.2 634.3,595.5 637.1,588.9 636.1,587.2 635.1,584.5 634.2,582.2 632.7,580.0 632.2,577.6 630.5,574.5 629.1,572.0 629.0,570.5 627.8,568.4 626.1,564.8 626.0,562.5 624.6,560.9 623.7,558.1 623.6,556.0 622.5,552.4 621.5,550.9 621.5,547.7 620.9,545.6 619.5,542.7 620.1,540.9 619.6,537.8 618.6,535.7 630.4,513.6 643.0,492.3 648.7,474.0 654.3,453.9 652.5,436.9 656.0,411.5 660.6,377.7 658.0,355.0 658.0,346.9 651.8,339.9 651.1,333.6 648.0,329.2 639.8,312.3 632.3,295.9 627.5,287.0 626.6,285.8 626.2,284.2" fill="none" stroke="#00c8c8" stroke-width="1.15" stroke-linejoin="round"/>
<polyline points="626.2,284.2 628.0,287.5 641.0,314.0 652.6,339.0 661.9,351.3 664.4,379.0 672.0,380.0 673.2,381.5 677.6,384.8 678.2,386.5 682.4,391.2 682.0,394.0 683.2,400.8 684.0,403.0 687.2,415.2 704.0,410.4 720.8,398.4 736.5,391.2 752.8,384.8 764.0,369.6 775.4,345.8 787.1,333.6 796.5,320.9 806.6,302.2 815.2,282.0 824.7,260.6 831.0,251.5 838.8,236.7 843.9,228.8 849.5,226.2 856.6,217.8 864.3,204.2 869.9,190.6 879.3,178.1 885.8,164.5 892.6,154.6 908.4,127.2 913.2,110.8 915.4,109.0 917.5,107.9 926.5,93.8 935.9,82.5 939.5,70.2 940.3,69.0 940.8,68.2" fill="none" stroke="#00c8c8" stroke-width="1.15" stroke-linejoin="round"/>
<polyline points="627.0,283.0 660.5,352.0" fill="none" stroke="#00c8c8" stroke-width="1.15" stroke-linejoin="round"/>
<g>
<polygon points="118.5,696.2 118.5,707.4 127.7,701.8" fill="#00c8c8"/>
<polygon points="126.3,694.9 126.3,706.1 135.6,700.5" fill="#00c8c8"/>
<polygon points="130.1,693.7 130.1,704.9 139.4,699.3" fill="#00c8c8"/>
<polygon points="142.9,691.4 142.9,702.6 152.2,697.0" fill="#00c8c8"/>
<polygon points="148.1,690.6 148.1,701.8 157.3,696.2" fill="#00c8c8"/>
<polygon points="158.2,690.3 158.2,701.5 167.5,695.9" fill="#00c8c8"/>
<polygon points="172.2,688.6 172.2,699.8 181.4,694.2" fill="#00c8c8"/>
<polygon points="176.3,687.0 176.3,698.2 185.5,692.6" fill="#00c8c8"/>
<polygon points="188.1,687.6 188.1,698.8 197.4,693.2" fill="#00c8c8"/>
<polygon points="196.1,685.6 196.1,696.8 205.3,691.2" fill="#00c8c8"/>
<polygon points="205.2,685.0 205.2,696.2 214.4,690.6" fill="#00c8c8"/>
<polygon points="214.6,682.7 214.6,693.9 223.8,688.3" fill="#00c8c8"/>
<polygon points="221.8,681.9 221.8,693.1 231.0,687.5" fill="#00c8c8"/>
<polygon points="235.0,679.7 235.0,690.9 244.2,685.3" fill="#00c8c8"/>
<polygon points="239.3,680.0 239.3,691.2 248.6,685.6" fill="#00c8c8"/>
<polygon points="249.4,678.6 249.4,689.8 258.6,684.2" fill="#00c8c8"/>
<polygon points="257.1,678.0 257.1,689.2 266.4,683.6" fill="#00c8c8"/>
<polygon points="267.8,676.6 267.8,687.8 277.1,682.2" fill="#00c8c8"/>
<polygon points="277.9,676.5 277.9,687.7 287.1,682.1" fill="#00c8c8"/>
<polygon points="290.1,675.1 290.1,686.3 299.4,680.7" fill="#00c8c8"/>
<polygon points="295.9,672.7 295.9,683.9 305.2,678.3" fill="#00c8c8"/>
<polygon points="303.4,672.3 303.4,683.5 312.6,677.9" fill="#00c8c8"/>
<polygon points="313.4,670.5 313.4,681.7 322.7,676.1" fill="#00c8c8"/>
<polygon points="327.2,670.0 327.2,681.2 336.5,675.6" fill="#00c8c8"/>
<polygon points="330.4,670.4 330.4,681.6 339.6,676.0" fill="#00c8c8"/>
<polygon points="343.1,667.0 343.1,678.2 352.3,672.6" fill="#00c8c8"/>
<polygon points="350.6,667.4 350.6,678.6 359.9,673.0" fill="#00c8c8"/>
<polygon points="361.6,665.0 361.6,676.2 370.8,670.6" fill="#00c8c8"/>
<polygon points="368.6,663.4 368.6,674.6 377.9,669.0" fill="#00c8c8"/>
<polygon points="380.0,663.8 380.0,675.0 389.3,669.4" fill="#00c8c8"/>
<polygon points="387.9,661.9 387.9,673.1 397.2,667.5" fill="#00c8c8"/>
<polygon points="398.0,660.2 398.0,671.4 407.3,665.8" fill="#00c8c8"/>
<polygon points="408.7,659.6 408.7,670.8 418.0,665.2" fill="#00c8c8"/>
<polygon points="415.8,658.2 415.8,669.4 425.1,663.8" fill="#00c8c8"/>
<polygon points="422.1,657.9 422.1,669.1 431.4,663.5" fill="#00c8c8"/>
<polygon points="430.8,656.9 430.8,668.1 440.0,662.5" fill="#00c8c8"/>
<polygon points="445.5,654.8 445.5,666.0 454.8,660.4" fill="#00c8c8"/>
<polygon points="451.7,654.4 451.7,665.6 461.0,660.0" fill="#00c8c8"/>
<polygon points="458.9,652.5 458.9,663.7 468.2,658.1" fill="#00c8c8"/>
<polygon points="472.9,649.8 472.9,661.0 482.1,655.4" fill="#00c8c8"/>
<polygon points="479.7,648.6 479.7,659.8 488.9,654.2" fill="#00c8c8"/>
<polygon points="489.7,646.9 489.7,658.1 499.0,652.5" fill="#00c8c8"/>
<polygon points="499.8,646.0 499.8,657.2 509.1,651.6" fill="#00c8c8"/>
<polygon points="505.1,644.5 505.1,655.7 514.4,650.1" fill="#00c8c8"/>
<polygon points="514.7,643.6 514.7,654.8 524.0,649.2" fill="#00c8c8"/>
<polygon points="527.2,640.2 527.2,651.4 536.4,645.8" fill="#00c8c8"/>
<polygon points="531.6,639.7 531.6,650.9 540.8,645.3" fill="#00c8c8"/>
<polygon points="544.7,637.3 544.7,648.5 553.9,642.9" fill="#00c8c8"/>
<polygon points="549.6,633.9 549.6,645.1 558.8,639.5" fill="#00c8c8"/>
<polygon points="561.2,630.8 561.2,642.0 570.5,636.4" fill="#00c8c8"/>
<polygon points="568.2,629.2 568.2,640.4 577.5,634.8" fill="#00c8c8"/>
<polygon points="580.4,623.9 580.4,635.1 589.6,629.5" fill="#00c8c8"/>
<polygon points="600.0,614.9 600.0,626.1 609.2,620.5" fill="#00c8c8"/>
<polygon points="604.5,611.8 604.5,623.0 613.8,617.4" fill="#00c8c8"/>
<polygon points="618.0,602.0 618.0,613.2 627.3,607.6" fill="#00c8c8"/>
<polygon points="625.8,595.6 625.8,606.8 635.0,601.2" fill="#00c8c8"/>
<polygon points="630.5,589.9 630.5,601.1 639.8,595.5" fill="#00c8c8"/>
<polygon points="633.3,583.3 633.3,594.5 642.6,588.9" fill="#00c8c8"/>
<polygon points="632.3,581.6 632.3,592.8 641.6,587.2" fill="#00c8c8"/>
<polygon points="631.4,578.9 631.4,590.1 640.6,584.5" fill="#00c8c8"/>
<polygon points="630.5,576.6 630.5,587.8 639.7,582.2" fill="#00c8c8"/>
<polygon points="628.9,574.4 628.9,585.6 638.2,580.0" fill="#00c8c8"/>
<polygon points="628.4,572.0 628.4,583.2 637.7,577.6" fill="#00c8c8"/>
<polygon points="626.7,568.9 626.7,580.1 636.0,574.5" fill="#00c8c8"/>
<polygon points="625.3,566.4 625.3,577.6 634.6,572.0" fill="#00c8c8"/>
<polygon points="625.2,564.9 625.2,576.1 634.5,570.5" fill="#00c8c8"/>
<polygon points="624.1,562.8 624.1,574.0 633.3,568.4" fill="#00c8c8"/>
<polygon points="622.3,559.2 622.3,570.4 631.6,564.8" fill="#00c8c8"/>
<polygon points="622.2,556.9 622.2,568.1 631.5,562.5" fill="#00c8c8"/>
<polygon points="620.9,555.3 620.9,566.5 630.1,560.9" fill="#00c8c8"/>
<polygon points="620.0,552.5 620.0,563.7 629.2,558.1" fill="#00c8c8"/>
<polygon points="619.8,550.4 619.8,561.6 629.1,556.0" fill="#00c8c8"/>
<polygon points="618.7,546.8 618.7,558.0 628.0,552.4" fill="#00c8c8"/>
<polygon points="617.8,545.3 617.8,556.5 627.0,550.9" fill="#00c8c8"/>
<polygon points="617.7,542.1 617.7,553.3 627.0,547.7" fill="#00c8c8"/>
<polygon points="617.1,540.0 617.1,551.2 626.4,545.6" fill="#00c8c8"/>
<polygon points="615.7,537.1 615.7,548.3 625.0,542.7" fill="#00c8c8"/>
<polygon points="616.3,535.3 616.3,546.5 625.6,540.9" fill="#00c8c8"/>
<polygon points="615.9,532.2 615.9,543.4 625.1,537.8" fill="#00c8c8"/>
<polygon points="614.8,530.1 614.8,541.3 624.1,535.7" fill="#00c8c8"/>
<polygon points="626.6,508.0 626.6,519.2 635.9,513.6" fill="#00c8c8"/>
<polygon points="639.2,486.7 639.2,497.9 648.5,492.3" fill="#00c8c8"/>
<polygon points="645.0,468.4 645.0,479.6 654.2,474.0" fill="#00c8c8"/>
<polygon points="650.5,448.3 650.5,459.5 659.8,453.9" fill="#00c8c8"/>
<polygon points="648.8,431.3 648.8,442.5 658.0,436.9" fill="#00c8c8"/>
<polygon points="652.2,405.9 652.2,417.1 661.5,411.5" fill="#00c8c8"/>
<polygon points="656.9,372.1 656.9,383.3 666.1,377.7" fill="#00c8c8"/>
<polygon points="654.2,349.4 654.2,360.6 663.5,355.0" fill="#00c8c8"/>
<polygon points="654.2,341.3 654.2,352.5 663.5,346.9" fill="#00c8c8"/>
<polygon points="648.0,334.3 648.0,345.5 657.3,339.9" fill="#00c8c8"/>
<polygon points="647.4,328.0 647.4,339.2 656.6,333.6" fill="#00c8c8"/>
<polygon points="644.2,323.6 644.2,334.8 653.5,329.2" fill="#00c8c8"/>
<polygon points="636.0,306.7 636.0,317.9 645.3,312.3" fill="#00c8c8"/>
<polygon points="628.5,290.3 628.5,301.5 637.8,295.9" fill="#00c8c8"/>
<polygon points="623.8,281.4 623.8,292.6 633.0,287.0" fill="#00c8c8"/>
<polygon points="622.9,280.2 622.9,291.4 632.1,285.8" fill="#00c8c8"/>
<polygon points="622.5,278.6 622.5,289.8 631.7,284.2" fill="#00c8c8"/>
<polygon points="658.1,345.7 658.1,356.9 667.4,351.3" fill="#00c8c8"/>
<polygon points="660.6,373.4 660.6,384.6 669.9,379.0" fill="#00c8c8"/>
<polygon points="668.2,374.4 668.2,385.6 677.5,380.0" fill="#00c8c8"/>
<polygon points="669.5,375.9 669.5,387.1 678.7,381.5" fill="#00c8c8"/>
<polygon points="673.9,379.2 673.9,390.4 683.1,384.8" fill="#00c8c8"/>
<polygon points="674.5,380.9 674.5,392.1 683.7,386.5" fill="#00c8c8"/>
<polygon points="678.6,385.6 678.6,396.8 687.9,391.2" fill="#00c8c8"/>
<polygon points="678.2,388.4 678.2,399.6 687.5,394.0" fill="#00c8c8"/>
<polygon points="679.5,395.2 679.5,406.4 688.7,400.8" fill="#00c8c8"/>
<polygon points="680.2,397.4 680.2,408.6 689.5,403.0" fill="#00c8c8"/>
<polygon points="683.5,409.6 683.5,420.8 692.7,415.2" fill="#00c8c8"/>
<polygon points="700.2,404.8 700.2,416.0 709.5,410.4" fill="#00c8c8"/>
<polygon points="717.0,392.8 717.0,404.0 726.3,398.4" fill="#00c8c8"/>
<polygon points="732.8,385.6 732.8,396.8 742.0,391.2" fill="#00c8c8"/>
<polygon points="749.0,379.2 749.0,390.4 758.3,384.8" fill="#00c8c8"/>
<polygon points="760.2,364.0 760.2,375.2 769.5,369.6" fill="#00c8c8"/>
<polygon points="771.6,340.2 771.6,351.4 780.9,345.8" fill="#00c8c8"/>
<polygon points="783.4,328.0 783.4,339.2 792.6,333.6" fill="#00c8c8"/>
<polygon points="792.8,315.3 792.8,326.5 802.0,320.9" fill="#00c8c8"/>
<polygon points="802.9,296.6 802.9,307.8 812.1,302.2" fill="#00c8c8"/>
<polygon points="811.5,276.4 811.5,287.6 820.7,282.0" fill="#00c8c8"/>
<polygon points="821.0,255.0 821.0,266.2 830.2,260.6" fill="#00c8c8"/>
<polygon points="827.2,245.9 827.2,257.1 836.5,251.5" fill="#00c8c8"/>
<polygon points="835.0,231.1 835.0,242.3 844.3,236.7" fill="#00c8c8"/>
<polygon points="840.1,223.2 840.1,234.4 849.4,228.8" fill="#00c8c8"/>
<polygon points="845.8,220.6 845.8,231.8 855.0,226.2" fill="#00c8c8"/>
<polygon points="852.9,212.2 852.9,223.4 862.1,217.8" fill="#00c8c8"/>
<polygon points="860.5,198.6 860.5,209.8 869.8,204.2" fill="#00c8c8"/>
<polygon points="866.1,185.0 866.1,196.2 875.4,190.6" fill="#00c8c8"/>
<polygon points="875.5,172.5 875.5,183.7 884.8,178.1" fill="#00c8c8"/>
<polygon points="882.0,158.9 882.0,170.1 891.3,164.5" fill="#00c8c8"/>
<polygon points="888.9,149.0 888.9,160.2 898.1,154.6" fill="#00c8c8"/>
<polygon points="904.6,121.6 904.6,132.8 913.9,127.2" fill="#00c8c8"/>
<polygon points="909.5,105.2 909.5,116.4 918.7,110.8" fill="#00c8c8"/>
<polygon points="911.6,103.4 911.6,114.6 920.9,109.0" fill="#00c8c8"/>
<polygon points="913.8,102.3 913.8,113.5 923.0,107.9" fill="#00c8c8"/>
<polygon points="922.8,88.2 922.8,99.4 932.0,93.8" fill="#00c8c8"/>
<polygon points="932.1,76.9 932.1,88.1 941.4,82.5" fill="#00c8c8"/>
<polygon points="935.8,64.6 935.8,75.8 945.0,70.2" fill="#00c8c8"/>
<polygon points="936.5,63.4 936.5,74.6 945.8,69.0" fill="#00c8c8"/>
<polygon points="937.0,62.6 937.0,73.8 946.3,68.2" fill="#00c8c8"/>
</g>
<g>
<polygon points="128.8,703.3 124.5,705.8 120.2,703.3 120.2,698.3 124.5,695.8 128.8,698.3" fill="#7a4f4f"/>
<polygon points="143.3,701.6 139.0,704.1 134.7,701.6 134.7,696.6 139.0,694.1 143.3,696.6" fill="#7a4f4f"/>
<polygon points="164.8,699.2 160.5,701.7 156.2,699.2 156.2,694.2 160.5,691.7 164.8,694.2" fill="#7a4f4f"/>
<polygon points="196.3,695.7 192.0,698.2 187.7,695.7 187.7,690.7 192.0,688.2 196.3,690.7" fill="#7a4f4f"/>
<polygon points="205.3,694.7 201.0,697.2 196.7,694.7 196.7,689.7 201.0,687.2 205.3,689.7" fill="#7a4f4f"/>
<polygon points="230.8,691.9 226.5,694.4 222.2,691.9 222.2,686.9 226.5,684.4 230.8,686.9" fill="#7a4f4f"/>
<polygon points="245.3,690.2 241.0,692.7 236.7,690.2 236.7,685.2 241.0,682.7 245.3,685.2" fill="#7a4f4f"/>
<polygon points="255.3,689.1 251.0,691.6 246.7,689.1 246.7,684.1 251.0,681.6 255.3,684.1" fill="#7a4f4f"/>
<polygon points="270.3,687.4 266.0,689.9 261.7,687.4 261.7,682.4 266.0,679.9 270.3,682.4" fill="#7a4f4f"/>
<polygon points="284.3,685.9 280.0,688.4 275.7,685.9 275.7,680.9 280.0,678.4 284.3,680.9" fill="#7a4f4f"/>
<polygon points="295.3,684.7 291.0,687.2 286.7,684.7 286.7,679.7 291.0,677.2 295.3,679.7" fill="#7a4f4f"/>
<polygon points="304.3,683.6 300.0,686.1 295.7,683.6 295.7,678.6 300.0,676.1 304.3,678.6" fill="#7a4f4f"/>
<polygon points="316.3,682.3 312.0,684.8 307.7,682.3 307.7,677.3 312.0,674.8 316.3,677.3" fill="#7a4f4f"/>
<polygon points="326.3,681.2 322.0,683.7 317.7,681.2 317.7,676.2 322.0,673.7 326.3,676.2" fill="#7a4f4f"/>
<polygon points="334.3,680.3 330.0,682.8 325.7,680.3 325.7,675.3 330.0,672.8 334.3,675.3" fill="#7a4f4f"/>
<polygon points="342.3,679.4 338.0,681.9 333.7,679.4 333.7,674.4 338.0,671.9 342.3,674.4" fill="#7a4f4f"/>
<polygon points="349.3,678.6 345.0,681.1 340.7,678.6 340.7,673.6 345.0,671.1 349.3,673.6" fill="#7a4f4f"/>
<polygon points="356.3,677.8 352.0,680.3 347.7,677.8 347.7,672.8 352.0,670.3 356.3,672.8" fill="#7a4f4f"/>
<polygon points="362.3,677.2 358.0,679.7 353.7,677.2 353.7,672.2 358.0,669.7 362.3,672.2" fill="#7a4f4f"/>
<polygon points="370.3,676.3 366.0,678.8 361.7,676.3 361.7,671.3 366.0,668.8 370.3,671.3" fill="#7a4f4f"/>
<polygon points="378.3,675.4 374.0,677.9 369.7,675.4 369.7,670.4 374.0,667.9 378.3,670.4" fill="#7a4f4f"/>
<polygon points="385.3,674.6 381.0,677.1 376.7,674.6 376.7,669.6 381.0,667.1 385.3,669.6" fill="#7a4f4f"/>
<polygon points="392.3,673.8 388.0,676.3 383.7,673.8 383.7,668.8 388.0,666.3 392.3,668.8" fill="#7a4f4f"/>
<polygon points="399.8,673.0 395.5,675.5 391.2,673.0 391.2,668.0 395.5,665.5 399.8,668.0" fill="#7a4f4f"/>
<polygon points="408.3,672.0 404.0,674.5 399.7,672.0 399.7,667.0 404.0,664.5 408.3,667.0" fill="#7a4f4f"/>
<polygon points="417.8,671.0 413.5,673.5 409.2,671.0 409.2,666.0 413.5,663.5 417.8,666.0" fill="#7a4f4f"/>
<polygon points="423.0,670.4 418.7,672.9 414.4,670.4 414.4,665.4 418.7,662.9 423.0,665.4" fill="#7a4f4f"/>
<polygon points="435.1,664.7 430.8,667.2 426.5,664.7 426.5,659.7 430.8,657.2 435.1,659.7" fill="#7a4f4f"/>
</g>
<line x1="112.6" y1="701.8" x2="800" y2="624.9" stroke="#a08a10" stroke-width="1.3"/>
<line x1="112.6" y1="701.8" x2="800" y2="624.9" stroke="#2030c0" stroke-width="1.1" stroke-dasharray="1.2 3.6"/>
</g>
<rect x="112.6" y="11.9" width="856.3" height="689.9" fill="none" stroke="#000" stroke-width="3"/>
<g stroke="#000" stroke-width="2.9">
<line x1="198.2" y1="701.8" x2="198.2" y2="694.5999999999999"/>
<line x1="198.2" y1="11.9" x2="198.2" y2="19.1"/>
<line x1="283.9" y1="701.8" x2="283.9" y2="687.8"/>
<line x1="283.9" y1="11.9" x2="283.9" y2="25.9"/>
<line x1="369.5" y1="701.8" x2="369.5" y2="694.5999999999999"/>
<line x1="369.5" y1="11.9" x2="369.5" y2="19.1"/>
<line x1="455.1" y1="701.8" x2="455.1" y2="687.8"/>
<line x1="455.1" y1="11.9" x2="455.1" y2="25.9"/>
<line x1="540.8" y1="701.8" x2="540.8" y2="694.5999999999999"/>
<line x1="540.8" y1="11.9" x2="540.8" y2="19.1"/>
<line x1="626.4" y1="701.8" x2="626.4" y2="687.8"/>
<line x1="626.4" y1="11.9" x2="626.4" y2="25.9"/>
<line x1="712.0" y1="701.8" x2="712.0" y2="694.5999999999999"/>
<line x1="712.0" y1="11.9" x2="712.0" y2="19.1"/>
<line x1="797.6" y1="701.8" x2="797.6" y2="687.8"/>
<line x1="797.6" y1="11.9" x2="797.6" y2="25.9"/>
<line x1="883.3" y1="701.8" x2="883.3" y2="694.5999999999999"/>
<line x1="883.3" y1="11.9" x2="883.3" y2="19.1"/>
<line x1="112.6" y1="615.6" x2="119.8" y2="615.6"/>
<line x1="968.9" y1="615.6" x2="961.6999999999999" y2="615.6"/>
<line x1="112.6" y1="529.3" x2="126.6" y2="529.3"/>
<line x1="968.9" y1="529.3" x2="954.9" y2="529.3"/>
<line x1="112.6" y1="443.1" x2="119.8" y2="443.1"/>
<line x1="968.9" y1="443.1" x2="961.6999999999999" y2="443.1"/>
<line x1="112.6" y1="356.9" x2="126.6" y2="356.9"/>
<line x1="968.9" y1="356.9" x2="954.9" y2="356.9"/>
<line x1="112.6" y1="270.6" x2="119.8" y2="270.6"/>
<line x1="968.9" y1="270.6" x2="961.6999999999999" y2="270.6"/>
<line x1="112.6" y1="184.4" x2="126.6" y2="184.4"/>
<line x1="968.9" y1="184.4" x2="954.9" y2="184.4"/>
<line x1="112.6" y1="98.1" x2="119.8" y2="98.1"/>
<line x1="968.9" y1="98.1" x2="961.6999999999999" y2="98.1"/>
</g>
<g font-size="29" text-anchor="middle">
<text x="112.6" y="740.3">0</text>
<text x="283.9" y="740.3">200</text>
<text x="455.1" y="740.3">400</text>
<text x="626.4" y="740.3">600</text>
<text x="797.6" y="740.3">800</text>
<text x="968.4" y="740.3">1000</text>
</g>
<g font-size="29" text-anchor="end">
<text x="97.5" y="712.4">0,0</text>
<text x="97.5" y="539.9">0,1</text>
<text x="97.5" y="367.5">0,2</text>
<text x="97.5" y="195.0">0,3</text>
<text x="97.5" y="22.5">0,4</text>
</g>
<text x="547" y="791" font-size="35.6" text-anchor="middle" style="white-space:pre">AC current amplitude  (A)</text>
<text transform="translate(27.8 362.5) rotate(-90)" font-size="35.6" text-anchor="middle" style="white-space:pre">AC voltage amplitude  (V)</text>
<g font-size="36.5" text-anchor="middle">
<text x="309" y="430.5">1</text>
<text x="366" y="362.8">2</text>
<text x="436.3" y="273">3</text>
<text x="400.5" y="323.5">4</text>
<text x="468.8" y="221">5</text>
<text x="706" y="217">6</text>
<text x="753" y="270.3">7</text>
<text x="829.5" y="314">8</text>
<text x="676" y="620.5">9</text>
</g>
<rect x="778.0" y="355.2" width="169.5" height="315.8" fill="#fff" stroke="#1a1a1a" stroke-width="1.5"/>
<line x1="781.5" y1="375.6" x2="841" y2="375.6" stroke="#7a4f4f" stroke-width="1.25"/>
<circle cx="811.2" cy="375.6" r="4.4" fill="#7a4f4f"/>
<text x="848.3" y="385.0" font-size="26">1- 0μm</text>
<line x1="781.5" y1="410.8" x2="841" y2="410.8" stroke="#ff3038" stroke-width="1.25"/>
<circle cx="811.2" cy="410.8" r="4.4" fill="#ff00ff"/>
<text x="848.3" y="420.2" font-size="26">2- 3μm</text>
<line x1="781.5" y1="445.9" x2="841" y2="445.9" stroke="#3aa863" stroke-width="1.25"/>
<polygon points="805.9,442.4 816.5,442.4 811.2,451.1" fill="#3aa863"/>
<text x="848.3" y="455.3" font-size="26">3- 5μm</text>
<line x1="781.5" y1="481.1" x2="841" y2="481.1" stroke="#1f6ee0" stroke-width="1.25"/>
<polygon points="805.9,484.6 816.5,484.6 811.2,475.9" fill="#1f6ee0"/>
<text x="848.3" y="490.5" font-size="26">4- 9μm</text>
<line x1="781.5" y1="516.2" x2="841" y2="516.2" stroke="#b57edc" stroke-width="1.25"/>
<polygon points="805.5,516.2 811.2,510.5 816.9,516.2 811.2,521.9" fill="#000"/>
<text x="848.3" y="525.6" font-size="26">5- 13μm</text>
<line x1="781.5" y1="551.4" x2="841" y2="551.4" stroke="#444" stroke-width="1.25"/>
<rect x="807.2" y="547.4" width="8.0" height="8.0" fill="#ff0000"/>
<text x="848.3" y="560.8" font-size="26">6- 16μm</text>
<line x1="781.5" y1="586.6" x2="841" y2="586.6" stroke="#c8960c" stroke-width="1.25"/>
<polygon points="814.8,581.2 814.8,591.9 806.0,586.6" fill="#c8960c"/>
<text x="848.3" y="596.0" font-size="26">7- 27μm</text>
<line x1="781.5" y1="621.7" x2="841" y2="621.7" stroke="#00c8c8" stroke-width="1.25"/>
<polygon points="807.6,616.4 807.6,627.0 816.4,621.7" fill="#00c8c8"/>
<text x="848.3" y="631.1" font-size="26">8- 40μm</text>
</svg></body></html>
